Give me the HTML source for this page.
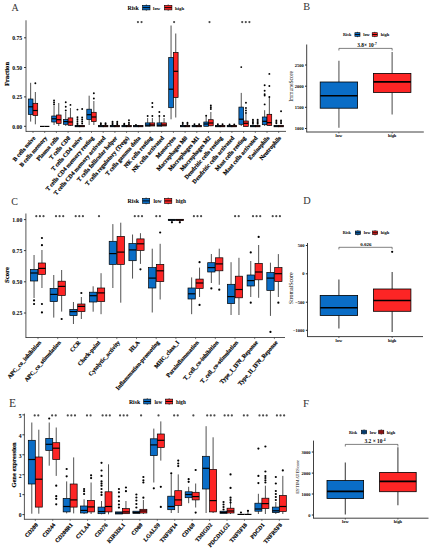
<!DOCTYPE html><html><head><meta charset="utf-8"><style>html,body{margin:0;padding:0;background:#fff;}svg{display:block;}</style></head><body>
<svg width="433" height="550" viewBox="0 0 433 550">
<rect width="433" height="550" fill="#fff"/>
<text x="11.6" y="10.6" font-size="10" text-anchor="start" font-weight="normal" font-family='"Liberation Serif", serif' fill="#333" >A</text>
<line x1="26" y1="20.3" x2="26" y2="131.9" stroke="#2a2a2a" stroke-width="0.8" />
<line x1="26" y1="131.4" x2="286" y2="131.4" stroke="#2a2a2a" stroke-width="0.8" />
<line x1="24" y1="126.3" x2="26" y2="126.3" stroke="#222" stroke-width="0.9" />
<text x="22.2" y="128.8" font-size="5.7" text-anchor="end" font-weight="bold" font-family='"Liberation Serif", serif' fill="#000" >0.00</text>
<line x1="24" y1="96.9" x2="26" y2="96.9" stroke="#222" stroke-width="0.9" />
<text x="22.2" y="99.4" font-size="5.7" text-anchor="end" font-weight="bold" font-family='"Liberation Serif", serif' fill="#000" >0.25</text>
<line x1="24" y1="67.5" x2="26" y2="67.5" stroke="#222" stroke-width="0.9" />
<text x="22.2" y="70" font-size="5.7" text-anchor="end" font-weight="bold" font-family='"Liberation Serif", serif' fill="#000" >0.50</text>
<line x1="24" y1="37.8" x2="26" y2="37.8" stroke="#222" stroke-width="0.9" />
<text x="22.2" y="40.3" font-size="5.7" text-anchor="end" font-weight="bold" font-family='"Liberation Serif", serif' fill="#000" >0.75</text>
<text x="8.8" y="74" font-size="6.6" text-anchor="middle" font-weight="bold" font-family='"Liberation Serif", serif' fill="#000" transform="rotate(-90 8.8 74)" stroke="#000" stroke-width="0.15">Fraction</text>
<line x1="33" y1="131.4" x2="33" y2="133" stroke="#2a2a2a" stroke-width="0.6" />
<line x1="30.65" y1="82.8" x2="30.65" y2="99" stroke="#333" stroke-width="0.85" />
<line x1="30.65" y1="114.5" x2="30.65" y2="121.6" stroke="#333" stroke-width="0.85" />
<rect x="28.3" y="99" width="4.7" height="15.5" fill="#0a6dc6" stroke="#000" stroke-width="0.7"/>
<line x1="28.3" y1="106.8" x2="33" y2="106.8" stroke="#000" stroke-width="1.2" />
<line x1="35.35" y1="92" x2="35.35" y2="103.3" stroke="#333" stroke-width="0.85" />
<line x1="35.35" y1="115.5" x2="35.35" y2="124.3" stroke="#333" stroke-width="0.85" />
<rect x="33" y="103.3" width="4.7" height="12.2" fill="#fd2525" stroke="#000" stroke-width="0.7"/>
<line x1="33" y1="110.5" x2="37.7" y2="110.5" stroke="#000" stroke-width="1.2" />
<circle cx="35.35" cy="83.3" r="0.95" fill="#000"/>
<text x="35.7" y="138.2" font-size="5.9" text-anchor="end" font-weight="bold" font-family='"Liberation Serif", serif' fill="#000" transform="rotate(-49 35.7 138.2)" stroke="#000" stroke-width="0.18">B cells naive</text>
<line x1="44.7" y1="131.4" x2="44.7" y2="133" stroke="#2a2a2a" stroke-width="0.6" />
<line x1="40" y1="126.4" x2="44.7" y2="126.4" stroke="#000" stroke-width="1.15" />
<line x1="44.7" y1="126.4" x2="49.4" y2="126.4" stroke="#000" stroke-width="1.15" />
<text x="47.4" y="138.2" font-size="5.9" text-anchor="end" font-weight="bold" font-family='"Liberation Serif", serif' fill="#000" transform="rotate(-49 47.4 138.2)" stroke="#000" stroke-width="0.18">B cells memory</text>
<line x1="56.4" y1="131.4" x2="56.4" y2="133" stroke="#2a2a2a" stroke-width="0.6" />
<line x1="54.05" y1="106" x2="54.05" y2="116" stroke="#333" stroke-width="0.85" />
<line x1="54.05" y1="122" x2="54.05" y2="125" stroke="#333" stroke-width="0.85" />
<rect x="51.7" y="116" width="4.7" height="6" fill="#0a6dc6" stroke="#000" stroke-width="0.7"/>
<line x1="51.7" y1="118.8" x2="56.4" y2="118.8" stroke="#000" stroke-width="1.2" />
<circle cx="54.05" cy="100.5" r="0.95" fill="#000"/>
<circle cx="54.05" cy="102.5" r="0.95" fill="#000"/>
<circle cx="54.05" cy="104.5" r="0.95" fill="#000"/>
<line x1="58.75" y1="103" x2="58.75" y2="115" stroke="#333" stroke-width="0.85" />
<line x1="58.75" y1="123.4" x2="58.75" y2="126" stroke="#333" stroke-width="0.85" />
<rect x="56.4" y="115" width="4.7" height="8.4" fill="#fd2525" stroke="#000" stroke-width="0.7"/>
<line x1="56.4" y1="119.7" x2="61.1" y2="119.7" stroke="#000" stroke-width="1.2" />
<text x="59.1" y="138.2" font-size="5.9" text-anchor="end" font-weight="bold" font-family='"Liberation Serif", serif' fill="#000" transform="rotate(-49 59.1 138.2)" stroke="#000" stroke-width="0.18">Plasma cells</text>
<line x1="68.1" y1="131.4" x2="68.1" y2="133" stroke="#2a2a2a" stroke-width="0.6" />
<line x1="65.75" y1="112" x2="65.75" y2="119.4" stroke="#333" stroke-width="0.85" />
<line x1="65.75" y1="124.3" x2="65.75" y2="126" stroke="#333" stroke-width="0.85" />
<rect x="63.4" y="119.4" width="4.7" height="4.9" fill="#0a6dc6" stroke="#000" stroke-width="0.7"/>
<line x1="63.4" y1="121.6" x2="68.1" y2="121.6" stroke="#000" stroke-width="1.2" />
<circle cx="65.75" cy="102.2" r="0.95" fill="#000"/>
<circle cx="65.75" cy="106.8" r="0.95" fill="#000"/>
<circle cx="65.75" cy="110.5" r="0.95" fill="#000"/>
<line x1="70.45" y1="108" x2="70.45" y2="117.9" stroke="#333" stroke-width="0.85" />
<line x1="70.45" y1="125.3" x2="70.45" y2="126" stroke="#333" stroke-width="0.85" />
<rect x="68.1" y="117.9" width="4.7" height="7.4" fill="#fd2525" stroke="#000" stroke-width="0.7"/>
<line x1="68.1" y1="122" x2="72.8" y2="122" stroke="#000" stroke-width="1.2" />
<circle cx="70.45" cy="104.9" r="0.95" fill="#000"/>
<text x="70.8" y="138.2" font-size="5.9" text-anchor="end" font-weight="bold" font-family='"Liberation Serif", serif' fill="#000" transform="rotate(-49 70.8 138.2)" stroke="#000" stroke-width="0.18">T cells CD8</text>
<line x1="79.8" y1="131.4" x2="79.8" y2="133" stroke="#2a2a2a" stroke-width="0.6" />
<rect x="75.1" y="125.4" width="4.7" height="1.4" fill="#0a6dc6" stroke="#000" stroke-width="0.7"/>
<line x1="75.1" y1="126.1" x2="79.8" y2="126.1" stroke="#000" stroke-width="1.2" />
<circle cx="77.45" cy="109.6" r="0.95" fill="#000"/>
<circle cx="77.45" cy="117.2" r="0.95" fill="#000"/>
<circle cx="77.45" cy="119.2" r="0.95" fill="#000"/>
<circle cx="77.45" cy="121.2" r="0.95" fill="#000"/>
<circle cx="77.45" cy="123.2" r="0.95" fill="#000"/>
<circle cx="77.45" cy="125" r="0.95" fill="#000"/>
<rect x="79.8" y="125.4" width="4.7" height="1.4" fill="#fd2525" stroke="#000" stroke-width="0.7"/>
<line x1="79.8" y1="126.1" x2="84.5" y2="126.1" stroke="#000" stroke-width="1.2" />
<circle cx="82.15" cy="109" r="0.95" fill="#000"/>
<circle cx="82.15" cy="117.5" r="0.95" fill="#000"/>
<circle cx="82.15" cy="119.5" r="0.95" fill="#000"/>
<circle cx="82.15" cy="121.5" r="0.95" fill="#000"/>
<circle cx="82.15" cy="123.5" r="0.95" fill="#000"/>
<text x="82.5" y="138.2" font-size="5.9" text-anchor="end" font-weight="bold" font-family='"Liberation Serif", serif' fill="#000" transform="rotate(-49 82.5 138.2)" stroke="#000" stroke-width="0.18">T cells CD4 naive</text>
<line x1="91.5" y1="131.4" x2="91.5" y2="133" stroke="#2a2a2a" stroke-width="0.6" />
<line x1="89.15" y1="95.7" x2="89.15" y2="109.2" stroke="#333" stroke-width="0.85" />
<line x1="89.15" y1="119.4" x2="89.15" y2="125" stroke="#333" stroke-width="0.85" />
<rect x="86.8" y="109.2" width="4.7" height="10.2" fill="#0a6dc6" stroke="#000" stroke-width="0.7"/>
<line x1="86.8" y1="114.7" x2="91.5" y2="114.7" stroke="#000" stroke-width="1.2" />
<line x1="93.85" y1="101" x2="93.85" y2="112.3" stroke="#333" stroke-width="0.85" />
<line x1="93.85" y1="121.6" x2="93.85" y2="125" stroke="#333" stroke-width="0.85" />
<rect x="91.5" y="112.3" width="4.7" height="9.3" fill="#fd2525" stroke="#000" stroke-width="0.7"/>
<line x1="91.5" y1="117" x2="96.2" y2="117" stroke="#000" stroke-width="1.2" />
<circle cx="93.85" cy="93.3" r="0.95" fill="#000"/>
<circle cx="93.85" cy="98.5" r="0.95" fill="#000"/>
<text x="94.2" y="138.2" font-size="5.9" text-anchor="end" font-weight="bold" font-family='"Liberation Serif", serif' fill="#000" transform="rotate(-49 94.2 138.2)" stroke="#000" stroke-width="0.18">T cells CD4 memory resting</text>
<line x1="103.2" y1="131.4" x2="103.2" y2="133" stroke="#2a2a2a" stroke-width="0.6" />
<rect x="98.5" y="125.4" width="4.7" height="1.4" fill="#0a6dc6" stroke="#000" stroke-width="0.7"/>
<line x1="98.5" y1="126.1" x2="103.2" y2="126.1" stroke="#000" stroke-width="1.2" />
<circle cx="100.85" cy="123.3" r="0.95" fill="#000"/>
<circle cx="100.85" cy="124.3" r="0.95" fill="#000"/>
<rect x="103.2" y="125.4" width="4.7" height="1.4" fill="#fd2525" stroke="#000" stroke-width="0.7"/>
<line x1="103.2" y1="126.1" x2="107.9" y2="126.1" stroke="#000" stroke-width="1.2" />
<circle cx="105.55" cy="123.3" r="0.95" fill="#000"/>
<circle cx="105.55" cy="124.3" r="0.95" fill="#000"/>
<text x="105.9" y="138.2" font-size="5.9" text-anchor="end" font-weight="bold" font-family='"Liberation Serif", serif' fill="#000" transform="rotate(-49 105.9 138.2)" stroke="#000" stroke-width="0.18">T cells CD4 memory activated</text>
<line x1="114.9" y1="131.4" x2="114.9" y2="133" stroke="#2a2a2a" stroke-width="0.6" />
<rect x="110.2" y="125.4" width="4.7" height="1.4" fill="#0a6dc6" stroke="#000" stroke-width="0.7"/>
<line x1="110.2" y1="126.1" x2="114.9" y2="126.1" stroke="#000" stroke-width="1.2" />
<circle cx="112.55" cy="121.6" r="0.95" fill="#000"/>
<circle cx="112.55" cy="123" r="0.95" fill="#000"/>
<circle cx="112.55" cy="124.3" r="0.95" fill="#000"/>
<rect x="114.9" y="125.4" width="4.7" height="1.4" fill="#fd2525" stroke="#000" stroke-width="0.7"/>
<line x1="114.9" y1="126.1" x2="119.6" y2="126.1" stroke="#000" stroke-width="1.2" />
<circle cx="117.25" cy="121.6" r="0.95" fill="#000"/>
<circle cx="117.25" cy="123" r="0.95" fill="#000"/>
<circle cx="117.25" cy="124.3" r="0.95" fill="#000"/>
<text x="117.6" y="138.2" font-size="5.9" text-anchor="end" font-weight="bold" font-family='"Liberation Serif", serif' fill="#000" transform="rotate(-49 117.6 138.2)" stroke="#000" stroke-width="0.18">T cells follicular helper</text>
<line x1="126.6" y1="131.4" x2="126.6" y2="133" stroke="#2a2a2a" stroke-width="0.6" />
<rect x="121.9" y="125.4" width="4.7" height="1.4" fill="#0a6dc6" stroke="#000" stroke-width="0.7"/>
<line x1="121.9" y1="126.1" x2="126.6" y2="126.1" stroke="#000" stroke-width="1.2" />
<circle cx="124.25" cy="123.8" r="0.95" fill="#000"/>
<circle cx="124.25" cy="124.8" r="0.95" fill="#000"/>
<rect x="126.6" y="125.4" width="4.7" height="1.4" fill="#fd2525" stroke="#000" stroke-width="0.7"/>
<line x1="126.6" y1="126.1" x2="131.3" y2="126.1" stroke="#000" stroke-width="1.2" />
<circle cx="128.95" cy="120.3" r="0.95" fill="#000"/>
<circle cx="128.95" cy="122.8" r="0.95" fill="#000"/>
<circle cx="128.95" cy="124.2" r="0.95" fill="#000"/>
<text x="129.3" y="138.2" font-size="5.9" text-anchor="end" font-weight="bold" font-family='"Liberation Serif", serif' fill="#000" transform="rotate(-49 129.3 138.2)" stroke="#000" stroke-width="0.18">T cells regulatory (Tregs)</text>
<line x1="138.3" y1="131.4" x2="138.3" y2="133" stroke="#2a2a2a" stroke-width="0.6" />
<rect x="133.6" y="125.4" width="4.7" height="1.4" fill="#0a6dc6" stroke="#000" stroke-width="0.7"/>
<line x1="133.6" y1="126.1" x2="138.3" y2="126.1" stroke="#000" stroke-width="1.2" />
<circle cx="135.95" cy="124.9" r="0.95" fill="#000"/>
<rect x="138.3" y="125.4" width="4.7" height="1.4" fill="#fd2525" stroke="#000" stroke-width="0.7"/>
<line x1="138.3" y1="126.1" x2="143" y2="126.1" stroke="#000" stroke-width="1.2" />
<text x="141" y="138.2" font-size="5.9" text-anchor="end" font-weight="bold" font-family='"Liberation Serif", serif' fill="#000" transform="rotate(-49 141 138.2)" stroke="#000" stroke-width="0.18">T cells gamma delta</text>
<line x1="150" y1="131.4" x2="150" y2="133" stroke="#2a2a2a" stroke-width="0.6" />
<line x1="147.65" y1="118" x2="147.65" y2="122.9" stroke="#333" stroke-width="0.85" />
<rect x="145.3" y="122.9" width="4.7" height="3.3" fill="#0a6dc6" stroke="#000" stroke-width="0.7"/>
<line x1="145.3" y1="125.2" x2="150" y2="125.2" stroke="#000" stroke-width="1.2" />
<circle cx="147.65" cy="116" r="0.95" fill="#000"/>
<line x1="152.35" y1="118" x2="152.35" y2="122.9" stroke="#333" stroke-width="0.85" />
<rect x="150" y="122.9" width="4.7" height="3.1" fill="#fd2525" stroke="#000" stroke-width="0.7"/>
<line x1="150" y1="125" x2="154.7" y2="125" stroke="#000" stroke-width="1.2" />
<circle cx="152.35" cy="103" r="0.95" fill="#000"/>
<circle cx="152.35" cy="107" r="0.95" fill="#000"/>
<circle cx="152.35" cy="116" r="0.95" fill="#000"/>
<text x="152.7" y="138.2" font-size="5.9" text-anchor="end" font-weight="bold" font-family='"Liberation Serif", serif' fill="#000" transform="rotate(-49 152.7 138.2)" stroke="#000" stroke-width="0.18">NK cells resting</text>
<line x1="161.7" y1="131.4" x2="161.7" y2="133" stroke="#2a2a2a" stroke-width="0.6" />
<line x1="159.35" y1="117" x2="159.35" y2="122.9" stroke="#333" stroke-width="0.85" />
<rect x="157" y="122.9" width="4.7" height="3.3" fill="#0a6dc6" stroke="#000" stroke-width="0.7"/>
<line x1="157" y1="125.2" x2="161.7" y2="125.2" stroke="#000" stroke-width="1.2" />
<circle cx="159.35" cy="112" r="0.95" fill="#000"/>
<circle cx="159.35" cy="116" r="0.95" fill="#000"/>
<line x1="164.05" y1="118" x2="164.05" y2="122.9" stroke="#333" stroke-width="0.85" />
<rect x="161.7" y="122.9" width="4.7" height="3.1" fill="#fd2525" stroke="#000" stroke-width="0.7"/>
<line x1="161.7" y1="125" x2="166.4" y2="125" stroke="#000" stroke-width="1.2" />
<circle cx="164.05" cy="116" r="0.95" fill="#000"/>
<text x="164.4" y="138.2" font-size="5.9" text-anchor="end" font-weight="bold" font-family='"Liberation Serif", serif' fill="#000" transform="rotate(-49 164.4 138.2)" stroke="#000" stroke-width="0.18">NK cells activated</text>
<line x1="173.4" y1="131.4" x2="173.4" y2="133" stroke="#2a2a2a" stroke-width="0.6" />
<line x1="171.05" y1="25.5" x2="171.05" y2="57.5" stroke="#333" stroke-width="0.85" />
<line x1="171.05" y1="107.7" x2="171.05" y2="119.3" stroke="#333" stroke-width="0.85" />
<rect x="168.7" y="57.5" width="4.7" height="50.2" fill="#0a6dc6" stroke="#000" stroke-width="0.7"/>
<line x1="168.7" y1="89.2" x2="173.4" y2="89.2" stroke="#000" stroke-width="1.2" />
<line x1="175.75" y1="33.5" x2="175.75" y2="52.5" stroke="#333" stroke-width="0.85" />
<line x1="175.75" y1="97.5" x2="175.75" y2="117.5" stroke="#333" stroke-width="0.85" />
<rect x="173.4" y="52.5" width="4.7" height="45" fill="#fd2525" stroke="#000" stroke-width="0.7"/>
<line x1="173.4" y1="71.3" x2="178.1" y2="71.3" stroke="#000" stroke-width="1.2" />
<text x="176.1" y="138.2" font-size="5.9" text-anchor="end" font-weight="bold" font-family='"Liberation Serif", serif' fill="#000" transform="rotate(-49 176.1 138.2)" stroke="#000" stroke-width="0.18">Monocytes</text>
<line x1="185.1" y1="131.4" x2="185.1" y2="133" stroke="#2a2a2a" stroke-width="0.6" />
<rect x="180.4" y="125.4" width="4.7" height="1.4" fill="#0a6dc6" stroke="#000" stroke-width="0.7"/>
<line x1="180.4" y1="126.1" x2="185.1" y2="126.1" stroke="#000" stroke-width="1.2" />
<circle cx="182.75" cy="122.8" r="0.95" fill="#000"/>
<circle cx="182.75" cy="124" r="0.95" fill="#000"/>
<rect x="185.1" y="125.4" width="4.7" height="1.4" fill="#fd2525" stroke="#000" stroke-width="0.7"/>
<line x1="185.1" y1="126.1" x2="189.8" y2="126.1" stroke="#000" stroke-width="1.2" />
<circle cx="187.45" cy="122.8" r="0.95" fill="#000"/>
<circle cx="187.45" cy="124" r="0.95" fill="#000"/>
<text x="187.8" y="138.2" font-size="5.9" text-anchor="end" font-weight="bold" font-family='"Liberation Serif", serif' fill="#000" transform="rotate(-49 187.8 138.2)" stroke="#000" stroke-width="0.18">Macrophages M0</text>
<line x1="196.8" y1="131.4" x2="196.8" y2="133" stroke="#2a2a2a" stroke-width="0.6" />
<rect x="192.1" y="125.4" width="4.7" height="1.4" fill="#0a6dc6" stroke="#000" stroke-width="0.7"/>
<line x1="192.1" y1="126.1" x2="196.8" y2="126.1" stroke="#000" stroke-width="1.2" />
<circle cx="194.45" cy="124.2" r="0.95" fill="#000"/>
<rect x="196.8" y="125.4" width="4.7" height="1.4" fill="#fd2525" stroke="#000" stroke-width="0.7"/>
<line x1="196.8" y1="126.1" x2="201.5" y2="126.1" stroke="#000" stroke-width="1.2" />
<circle cx="199.15" cy="124.2" r="0.95" fill="#000"/>
<text x="199.5" y="138.2" font-size="5.9" text-anchor="end" font-weight="bold" font-family='"Liberation Serif", serif' fill="#000" transform="rotate(-49 199.5 138.2)" stroke="#000" stroke-width="0.18">Macrophages M1</text>
<line x1="208.5" y1="131.4" x2="208.5" y2="133" stroke="#2a2a2a" stroke-width="0.6" />
<line x1="206.15" y1="116.5" x2="206.15" y2="122" stroke="#333" stroke-width="0.85" />
<rect x="203.8" y="122" width="4.7" height="4.3" fill="#0a6dc6" stroke="#000" stroke-width="0.7"/>
<line x1="203.8" y1="124" x2="208.5" y2="124" stroke="#000" stroke-width="1.2" />
<circle cx="206.15" cy="115.8" r="0.95" fill="#000"/>
<line x1="210.85" y1="112" x2="210.85" y2="119.7" stroke="#333" stroke-width="0.85" />
<line x1="210.85" y1="125.8" x2="210.85" y2="126.2" stroke="#333" stroke-width="0.85" />
<rect x="208.5" y="119.7" width="4.7" height="6.1" fill="#fd2525" stroke="#000" stroke-width="0.7"/>
<line x1="208.5" y1="123" x2="213.2" y2="123" stroke="#000" stroke-width="1.2" />
<circle cx="210.85" cy="105.5" r="0.95" fill="#000"/>
<circle cx="210.85" cy="107.2" r="0.95" fill="#000"/>
<circle cx="210.85" cy="109" r="0.95" fill="#000"/>
<text x="211.2" y="138.2" font-size="5.9" text-anchor="end" font-weight="bold" font-family='"Liberation Serif", serif' fill="#000" transform="rotate(-49 211.2 138.2)" stroke="#000" stroke-width="0.18">Macrophages M2</text>
<line x1="220.2" y1="131.4" x2="220.2" y2="133" stroke="#2a2a2a" stroke-width="0.6" />
<rect x="215.5" y="125.4" width="4.7" height="1.4" fill="#0a6dc6" stroke="#000" stroke-width="0.7"/>
<line x1="215.5" y1="126.1" x2="220.2" y2="126.1" stroke="#000" stroke-width="1.2" />
<circle cx="217.85" cy="124.2" r="0.95" fill="#000"/>
<rect x="220.2" y="125.4" width="4.7" height="1.4" fill="#fd2525" stroke="#000" stroke-width="0.7"/>
<line x1="220.2" y1="126.1" x2="224.9" y2="126.1" stroke="#000" stroke-width="1.2" />
<circle cx="222.55" cy="124.2" r="0.95" fill="#000"/>
<text x="222.9" y="138.2" font-size="5.9" text-anchor="end" font-weight="bold" font-family='"Liberation Serif", serif' fill="#000" transform="rotate(-49 222.9 138.2)" stroke="#000" stroke-width="0.18">Dendritic cells resting</text>
<line x1="231.9" y1="131.4" x2="231.9" y2="133" stroke="#2a2a2a" stroke-width="0.6" />
<rect x="227.2" y="125.4" width="4.7" height="1.4" fill="#0a6dc6" stroke="#000" stroke-width="0.7"/>
<line x1="227.2" y1="126.1" x2="231.9" y2="126.1" stroke="#000" stroke-width="1.2" />
<circle cx="229.55" cy="124.5" r="0.95" fill="#000"/>
<rect x="231.9" y="125.4" width="4.7" height="1.4" fill="#fd2525" stroke="#000" stroke-width="0.7"/>
<line x1="231.9" y1="126.1" x2="236.6" y2="126.1" stroke="#000" stroke-width="1.2" />
<circle cx="234.25" cy="124.5" r="0.95" fill="#000"/>
<text x="234.6" y="138.2" font-size="5.9" text-anchor="end" font-weight="bold" font-family='"Liberation Serif", serif' fill="#000" transform="rotate(-49 234.6 138.2)" stroke="#000" stroke-width="0.18">Dendritic cells activated</text>
<line x1="243.6" y1="131.4" x2="243.6" y2="133" stroke="#2a2a2a" stroke-width="0.6" />
<line x1="241.25" y1="92.9" x2="241.25" y2="107.1" stroke="#333" stroke-width="0.85" />
<line x1="241.25" y1="124.3" x2="241.25" y2="126" stroke="#333" stroke-width="0.85" />
<rect x="238.9" y="107.1" width="4.7" height="17.2" fill="#0a6dc6" stroke="#000" stroke-width="0.7"/>
<line x1="238.9" y1="119.2" x2="243.6" y2="119.2" stroke="#000" stroke-width="1.2" />
<circle cx="241.25" cy="67.1" r="0.95" fill="#000"/>
<line x1="245.95" y1="114" x2="245.95" y2="121" stroke="#333" stroke-width="0.85" />
<rect x="243.6" y="121" width="4.7" height="5.5" fill="#fd2525" stroke="#000" stroke-width="0.7"/>
<line x1="243.6" y1="123.3" x2="248.3" y2="123.3" stroke="#000" stroke-width="1.2" />
<circle cx="245.95" cy="102.8" r="0.95" fill="#000"/>
<circle cx="245.95" cy="108" r="0.95" fill="#000"/>
<circle cx="245.95" cy="110.5" r="0.95" fill="#000"/>
<circle cx="245.95" cy="113" r="0.95" fill="#000"/>
<text x="246.3" y="138.2" font-size="5.9" text-anchor="end" font-weight="bold" font-family='"Liberation Serif", serif' fill="#000" transform="rotate(-49 246.3 138.2)" stroke="#000" stroke-width="0.18">Mast cells resting</text>
<line x1="255.3" y1="131.4" x2="255.3" y2="133" stroke="#2a2a2a" stroke-width="0.6" />
<rect x="250.6" y="125.4" width="4.7" height="1.4" fill="#0a6dc6" stroke="#000" stroke-width="0.7"/>
<line x1="250.6" y1="126.1" x2="255.3" y2="126.1" stroke="#000" stroke-width="1.2" />
<circle cx="252.95" cy="119.6" r="0.95" fill="#000"/>
<circle cx="252.95" cy="121" r="0.95" fill="#000"/>
<circle cx="252.95" cy="122.4" r="0.95" fill="#000"/>
<circle cx="252.95" cy="123.8" r="0.95" fill="#000"/>
<rect x="255.3" y="125.4" width="4.7" height="1.4" fill="#fd2525" stroke="#000" stroke-width="0.7"/>
<line x1="255.3" y1="126.1" x2="260" y2="126.1" stroke="#000" stroke-width="1.2" />
<circle cx="257.65" cy="119.6" r="0.95" fill="#000"/>
<circle cx="257.65" cy="121" r="0.95" fill="#000"/>
<circle cx="257.65" cy="122.4" r="0.95" fill="#000"/>
<circle cx="257.65" cy="123.8" r="0.95" fill="#000"/>
<text x="258" y="138.2" font-size="5.9" text-anchor="end" font-weight="bold" font-family='"Liberation Serif", serif' fill="#000" transform="rotate(-49 258 138.2)" stroke="#000" stroke-width="0.18">Mast cells activated</text>
<line x1="267" y1="131.4" x2="267" y2="133" stroke="#2a2a2a" stroke-width="0.6" />
<line x1="264.65" y1="110.2" x2="264.65" y2="117" stroke="#333" stroke-width="0.85" />
<line x1="264.65" y1="124.7" x2="264.65" y2="126" stroke="#333" stroke-width="0.85" />
<rect x="262.3" y="117" width="4.7" height="7.7" fill="#0a6dc6" stroke="#000" stroke-width="0.7"/>
<line x1="262.3" y1="121.3" x2="267" y2="121.3" stroke="#000" stroke-width="1.2" />
<circle cx="264.65" cy="85.2" r="0.95" fill="#000"/>
<circle cx="264.65" cy="90.8" r="0.95" fill="#000"/>
<circle cx="264.65" cy="94.2" r="0.95" fill="#000"/>
<circle cx="264.65" cy="95.6" r="0.95" fill="#000"/>
<circle cx="264.65" cy="104.4" r="0.95" fill="#000"/>
<line x1="269.35" y1="97" x2="269.35" y2="114.3" stroke="#333" stroke-width="0.85" />
<line x1="269.35" y1="125.4" x2="269.35" y2="126" stroke="#333" stroke-width="0.85" />
<rect x="267" y="114.3" width="4.7" height="11.1" fill="#fd2525" stroke="#000" stroke-width="0.7"/>
<line x1="267" y1="122.7" x2="271.7" y2="122.7" stroke="#000" stroke-width="1.2" />
<circle cx="269.35" cy="73.9" r="0.95" fill="#000"/>
<circle cx="269.35" cy="86" r="0.95" fill="#000"/>
<circle cx="269.35" cy="97" r="0.95" fill="#000"/>
<text x="269.7" y="138.2" font-size="5.9" text-anchor="end" font-weight="bold" font-family='"Liberation Serif", serif' fill="#000" transform="rotate(-49 269.7 138.2)" stroke="#000" stroke-width="0.18">Eosinophils</text>
<line x1="278.7" y1="131.4" x2="278.7" y2="133" stroke="#2a2a2a" stroke-width="0.6" />
<rect x="274" y="125.4" width="4.7" height="1.4" fill="#0a6dc6" stroke="#000" stroke-width="0.7"/>
<line x1="274" y1="126.1" x2="278.7" y2="126.1" stroke="#000" stroke-width="1.2" />
<circle cx="276.35" cy="120.5" r="0.95" fill="#000"/>
<circle cx="276.35" cy="121.9" r="0.95" fill="#000"/>
<circle cx="276.35" cy="123.3" r="0.95" fill="#000"/>
<rect x="278.7" y="125.4" width="4.7" height="1.4" fill="#fd2525" stroke="#000" stroke-width="0.7"/>
<line x1="278.7" y1="126.1" x2="283.4" y2="126.1" stroke="#000" stroke-width="1.2" />
<circle cx="281.05" cy="111.2" r="0.95" fill="#000"/>
<circle cx="281.05" cy="120.5" r="0.95" fill="#000"/>
<circle cx="281.05" cy="121.9" r="0.95" fill="#000"/>
<circle cx="281.05" cy="123.3" r="0.95" fill="#000"/>
<text x="281.4" y="138.2" font-size="5.9" text-anchor="end" font-weight="bold" font-family='"Liberation Serif", serif' fill="#000" transform="rotate(-49 281.4 138.2)" stroke="#000" stroke-width="0.18">Neutrophils</text>
<circle cx="137.95" cy="22.1" r="1.1" fill="#4a4a4a"/>
<circle cx="141.55" cy="22.1" r="1.1" fill="#4a4a4a"/>
<circle cx="174.1" cy="22.1" r="1.1" fill="#4a4a4a"/>
<circle cx="209.5" cy="22.1" r="1.1" fill="#4a4a4a"/>
<circle cx="242.2" cy="22.1" r="1.1" fill="#4a4a4a"/>
<circle cx="245.8" cy="22.1" r="1.1" fill="#4a4a4a"/>
<circle cx="249.4" cy="22.1" r="1.1" fill="#4a4a4a"/>
<text x="127.4" y="9.6" font-size="5.9" text-anchor="start" font-weight="bold" font-family='"Liberation Serif", serif' fill="#000" >Risk</text>
<line x1="146.3" y1="4.4" x2="146.3" y2="10.8" stroke="#000" stroke-width="0.6" />
<rect x="142.6" y="5.3" width="7.4" height="4.6" fill="#0a6dc6" stroke="#000" stroke-width="0.6"/>
<line x1="142.6" y1="7.6" x2="150" y2="7.6" stroke="#000" stroke-width="0.9" />
<line x1="168.2" y1="4.4" x2="168.2" y2="10.8" stroke="#000" stroke-width="0.6" />
<rect x="164.5" y="5.3" width="7.4" height="4.6" fill="#fd2525" stroke="#000" stroke-width="0.6"/>
<line x1="164.5" y1="7.6" x2="171.9" y2="7.6" stroke="#000" stroke-width="0.9" />
<text x="153.1" y="9.6" font-size="4.8" text-anchor="start" font-weight="bold" font-family='"Liberation Serif", serif' fill="#000" >low</text>
<text x="175" y="9.6" font-size="4.8" text-anchor="start" font-weight="bold" font-family='"Liberation Serif", serif' fill="#000" >high</text>
<text x="303.3" y="10" font-size="10.3" text-anchor="start" font-weight="normal" font-family='"Liberation Serif", serif' fill="#333" >B</text>
<line x1="306.7" y1="44.5" x2="306.7" y2="132.4" stroke="#2a2a2a" stroke-width="0.9" />
<line x1="306.7" y1="132" x2="423.8" y2="132" stroke="#2a2a2a" stroke-width="0.9" />
<line x1="305" y1="128.5" x2="306.7" y2="128.5" stroke="#222" stroke-width="1.0" />
<text x="303.8" y="130" font-size="4.5" text-anchor="end" font-weight="bold" font-family='"Liberation Serif", serif' fill="#000" >1000</text>
<line x1="305" y1="107.3" x2="306.7" y2="107.3" stroke="#222" stroke-width="1.0" />
<text x="303.8" y="108.8" font-size="4.5" text-anchor="end" font-weight="bold" font-family='"Liberation Serif", serif' fill="#000" >1500</text>
<line x1="305" y1="86.2" x2="306.7" y2="86.2" stroke="#222" stroke-width="1.0" />
<text x="303.8" y="87.7" font-size="4.5" text-anchor="end" font-weight="bold" font-family='"Liberation Serif", serif' fill="#000" >2000</text>
<line x1="305" y1="65" x2="306.7" y2="65" stroke="#222" stroke-width="1.0" />
<text x="303.8" y="66.5" font-size="4.5" text-anchor="end" font-weight="bold" font-family='"Liberation Serif", serif' fill="#000" >2500</text>
<text x="293" y="86.4" font-size="5.5" text-anchor="middle" font-weight="normal" font-family='"Liberation Serif", serif' fill="#000" transform="rotate(-90 293 86.4)" >ImmuneScore</text>
<line x1="338.9" y1="60.7" x2="338.9" y2="82" stroke="#7c7c7c" stroke-width="1.4" />
<line x1="338.9" y1="108.2" x2="338.9" y2="127.7" stroke="#7c7c7c" stroke-width="1.4" />
<rect x="320.2" y="82" width="37.4" height="26.2" fill="#0a6dc6" stroke="#000" stroke-width="0.8"/>
<line x1="320.2" y1="95.8" x2="357.6" y2="95.8" stroke="#000" stroke-width="1.6" />
<line x1="338.9" y1="132" x2="338.9" y2="133.4" stroke="#2a2a2a" stroke-width="0.7" />
<text x="338.9" y="137" font-size="4.4" text-anchor="middle" font-weight="bold" font-family='"Liberation Serif", serif' fill="#000" >low</text>
<line x1="392.15" y1="51.9" x2="392.15" y2="73.4" stroke="#7c7c7c" stroke-width="1.4" />
<line x1="392.15" y1="92.4" x2="392.15" y2="114.6" stroke="#7c7c7c" stroke-width="1.4" />
<rect x="373.4" y="73.4" width="37.5" height="19" fill="#fd2525" stroke="#000" stroke-width="0.8"/>
<line x1="373.4" y1="81.9" x2="410.9" y2="81.9" stroke="#000" stroke-width="1.6" />
<line x1="392.15" y1="132" x2="392.15" y2="133.4" stroke="#2a2a2a" stroke-width="0.7" />
<text x="392.15" y="137" font-size="4.4" text-anchor="middle" font-weight="bold" font-family='"Liberation Serif", serif' fill="#000" >high</text>
<polyline points="338.9,50.5 338.9,48.4 392.15,48.4 392.15,50.5" fill="none" stroke="#2a2a2a" stroke-width="0.6"/>
<text x="367" y="46.6" font-size="5.4" text-anchor="middle" font-weight="bold" font-family='"Liberation Serif", serif' fill="#000" >3.8× 10<tspan dy='-2' font-size='3.5'>-7</tspan></text>
<text x="343.1" y="36" font-size="4.2" text-anchor="start" font-weight="bold" font-family='"Liberation Serif", serif' fill="#000" >Risk</text>
<line x1="357.45" y1="31.8" x2="357.45" y2="37.2" stroke="#000" stroke-width="0.6" />
<rect x="354.9" y="32.7" width="5.1" height="3.6" fill="#0a6dc6" stroke="#000" stroke-width="0.6"/>
<line x1="354.9" y1="34.5" x2="360" y2="34.5" stroke="#000" stroke-width="0.9" />
<line x1="374.75" y1="31.8" x2="374.75" y2="37.2" stroke="#000" stroke-width="0.6" />
<rect x="372.2" y="32.7" width="5.1" height="3.6" fill="#fd2525" stroke="#000" stroke-width="0.6"/>
<line x1="372.2" y1="34.5" x2="377.3" y2="34.5" stroke="#000" stroke-width="0.9" />
<text x="363.2" y="36" font-size="4.4" text-anchor="start" font-weight="bold" font-family='"Liberation Serif", serif' fill="#000" >low</text>
<text x="380.8" y="36" font-size="4.4" text-anchor="start" font-weight="bold" font-family='"Liberation Serif", serif' fill="#000" >high</text>
<text x="303.3" y="203.5" font-size="10.3" text-anchor="start" font-weight="normal" font-family='"Liberation Serif", serif' fill="#333" >D</text>
<line x1="307.5" y1="243" x2="307.5" y2="337" stroke="#2a2a2a" stroke-width="0.9" />
<line x1="307.5" y1="336.6" x2="423" y2="336.6" stroke="#2a2a2a" stroke-width="0.9" />
<line x1="305.8" y1="245.5" x2="307.5" y2="245.5" stroke="#222" stroke-width="1.0" />
<text x="304.6" y="247" font-size="4.5" text-anchor="end" font-weight="bold" font-family='"Liberation Serif", serif' fill="#000" >500</text>
<line x1="305.8" y1="273.8" x2="307.5" y2="273.8" stroke="#222" stroke-width="1.0" />
<text x="304.6" y="275.3" font-size="4.5" text-anchor="end" font-weight="bold" font-family='"Liberation Serif", serif' fill="#000" >0</text>
<line x1="305.8" y1="302.2" x2="307.5" y2="302.2" stroke="#222" stroke-width="1.0" />
<text x="304.6" y="303.7" font-size="4.5" text-anchor="end" font-weight="bold" font-family='"Liberation Serif", serif' fill="#000" >−500</text>
<line x1="305.8" y1="330.3" x2="307.5" y2="330.3" stroke="#222" stroke-width="1.0" />
<text x="304.6" y="331.8" font-size="4.5" text-anchor="end" font-weight="bold" font-family='"Liberation Serif", serif' fill="#000" >−1000</text>
<text x="293.2" y="288.4" font-size="5.85" text-anchor="middle" font-weight="normal" font-family='"Liberation Serif", serif' fill="#000" transform="rotate(-90 293.2 288.4)" >StromalScore</text>
<line x1="338.9" y1="279.4" x2="338.9" y2="295.4" stroke="#444" stroke-width="1.1" />
<line x1="338.9" y1="315.4" x2="338.9" y2="328.5" stroke="#444" stroke-width="1.1" />
<rect x="320.2" y="295.4" width="37.4" height="20" fill="#0a6dc6" stroke="#000" stroke-width="0.8"/>
<line x1="320.2" y1="307.8" x2="357.6" y2="307.8" stroke="#000" stroke-width="1.6" />
<line x1="338.9" y1="336.6" x2="338.9" y2="338" stroke="#2a2a2a" stroke-width="0.7" />
<text x="338.9" y="341.7" font-size="4.4" text-anchor="middle" font-weight="bold" font-family='"Liberation Serif", serif' fill="#000" >low</text>
<line x1="392.15" y1="272" x2="392.15" y2="289" stroke="#444" stroke-width="1.1" />
<line x1="392.15" y1="311.3" x2="392.15" y2="332" stroke="#444" stroke-width="1.1" />
<rect x="373.4" y="289" width="37.5" height="22.3" fill="#fd2525" stroke="#000" stroke-width="0.8"/>
<line x1="373.4" y1="300.5" x2="410.9" y2="300.5" stroke="#000" stroke-width="1.6" />
<circle cx="392.15" cy="251.8" r="1.1" fill="#000"/>
<line x1="392.15" y1="336.6" x2="392.15" y2="338" stroke="#2a2a2a" stroke-width="0.7" />
<text x="392.15" y="341.7" font-size="4.4" text-anchor="middle" font-weight="bold" font-family='"Liberation Serif", serif' fill="#000" >high</text>
<polyline points="338.9,249.4 338.9,247.3 392.15,247.3 392.15,249.4" fill="none" stroke="#2a2a2a" stroke-width="0.6"/>
<text x="365.8" y="245.5" font-size="5.0" text-anchor="middle" font-weight="bold" font-family='"Liberation Serif", serif' fill="#000" >0.026</text>
<text x="342.8" y="234.3" font-size="4.2" text-anchor="start" font-weight="bold" font-family='"Liberation Serif", serif' fill="#000" >Risk</text>
<line x1="357.85" y1="230.1" x2="357.85" y2="235.5" stroke="#000" stroke-width="0.6" />
<rect x="355.3" y="231" width="5.1" height="3.6" fill="#0a6dc6" stroke="#000" stroke-width="0.6"/>
<line x1="355.3" y1="232.8" x2="360.4" y2="232.8" stroke="#000" stroke-width="0.9" />
<line x1="375.05" y1="230.1" x2="375.05" y2="235.5" stroke="#000" stroke-width="0.6" />
<rect x="372.5" y="231" width="5.1" height="3.6" fill="#fd2525" stroke="#000" stroke-width="0.6"/>
<line x1="372.5" y1="232.8" x2="377.6" y2="232.8" stroke="#000" stroke-width="0.9" />
<text x="363.8" y="234.3" font-size="4.4" text-anchor="start" font-weight="bold" font-family='"Liberation Serif", serif' fill="#000" >low</text>
<text x="380.8" y="234.3" font-size="4.4" text-anchor="start" font-weight="bold" font-family='"Liberation Serif", serif' fill="#000" >high</text>
<text x="303" y="407.3" font-size="11" text-anchor="start" font-weight="normal" font-family='"Liberation Serif", serif' fill="#333" >F</text>
<line x1="313.5" y1="440.6" x2="313.5" y2="518.6" stroke="#2a2a2a" stroke-width="0.9" />
<line x1="313.5" y1="518.2" x2="428.5" y2="518.2" stroke="#2a2a2a" stroke-width="0.9" />
<line x1="311.8" y1="515" x2="313.5" y2="515" stroke="#222" stroke-width="1.0" />
<text x="310.6" y="516.5" font-size="4.5" text-anchor="end" font-weight="bold" font-family='"Liberation Serif", serif' fill="#000" >0</text>
<line x1="311.8" y1="494" x2="313.5" y2="494" stroke="#222" stroke-width="1.0" />
<text x="310.6" y="495.5" font-size="4.5" text-anchor="end" font-weight="bold" font-family='"Liberation Serif", serif' fill="#000" >1000</text>
<line x1="311.8" y1="473.1" x2="313.5" y2="473.1" stroke="#222" stroke-width="1.0" />
<text x="310.6" y="474.6" font-size="4.5" text-anchor="end" font-weight="bold" font-family='"Liberation Serif", serif' fill="#000" >2000</text>
<line x1="311.8" y1="452" x2="313.5" y2="452" stroke="#222" stroke-width="1.0" />
<text x="310.6" y="453.5" font-size="4.5" text-anchor="end" font-weight="bold" font-family='"Liberation Serif", serif' fill="#000" >3000</text>
<text x="299.1" y="476.8" font-size="4.8" text-anchor="middle" font-weight="normal" font-family='"Liberation Serif", serif' fill="#000" transform="rotate(-90 299.1 476.8)" >ESTIMATEScore</text>
<line x1="345.3" y1="462.5" x2="345.3" y2="480.5" stroke="#444" stroke-width="1.1" />
<line x1="345.3" y1="498.5" x2="345.3" y2="514.4" stroke="#444" stroke-width="1.1" />
<rect x="327" y="480.5" width="36.6" height="18" fill="#0a6dc6" stroke="#000" stroke-width="0.8"/>
<line x1="327" y1="491.4" x2="363.6" y2="491.4" stroke="#000" stroke-width="1.6" />
<line x1="345.3" y1="518.2" x2="345.3" y2="519.6" stroke="#2a2a2a" stroke-width="0.7" />
<text x="345.3" y="523" font-size="4.4" text-anchor="middle" font-weight="bold" font-family='"Liberation Serif", serif' fill="#000" >low</text>
<line x1="397.9" y1="447.3" x2="397.9" y2="472.4" stroke="#444" stroke-width="1.1" />
<line x1="397.9" y1="491.7" x2="397.9" y2="505.2" stroke="#444" stroke-width="1.1" />
<rect x="379.6" y="472.4" width="36.6" height="19.3" fill="#fd2525" stroke="#000" stroke-width="0.8"/>
<line x1="379.6" y1="481.4" x2="416.2" y2="481.4" stroke="#000" stroke-width="1.6" />
<line x1="397.9" y1="518.2" x2="397.9" y2="519.6" stroke="#2a2a2a" stroke-width="0.7" />
<text x="397.9" y="523" font-size="4.4" text-anchor="middle" font-weight="bold" font-family='"Liberation Serif", serif' fill="#000" >high</text>
<polyline points="345.3,446.5 345.3,444.4 397.9,444.4 397.9,446.5" fill="none" stroke="#2a2a2a" stroke-width="0.6"/>
<text x="375" y="442.6" font-size="5.4" text-anchor="middle" font-weight="bold" font-family='"Liberation Serif", serif' fill="#000" >3.2 × 10<tspan dy='-2' font-size='3.5'>-4</tspan></text>
<text x="349" y="433.5" font-size="4.2" text-anchor="start" font-weight="bold" font-family='"Liberation Serif", serif' fill="#000" >Risk</text>
<line x1="364.05" y1="429.3" x2="364.05" y2="434.7" stroke="#000" stroke-width="0.6" />
<rect x="361.5" y="430.2" width="5.1" height="3.6" fill="#0a6dc6" stroke="#000" stroke-width="0.6"/>
<line x1="361.5" y1="432" x2="366.6" y2="432" stroke="#000" stroke-width="0.9" />
<line x1="381.25" y1="429.3" x2="381.25" y2="434.7" stroke="#000" stroke-width="0.6" />
<rect x="378.7" y="430.2" width="5.1" height="3.6" fill="#fd2525" stroke="#000" stroke-width="0.6"/>
<line x1="378.7" y1="432" x2="383.8" y2="432" stroke="#000" stroke-width="0.9" />
<text x="369.8" y="433.5" font-size="4.4" text-anchor="start" font-weight="bold" font-family='"Liberation Serif", serif' fill="#000" >low</text>
<text x="386.8" y="433.5" font-size="4.4" text-anchor="start" font-weight="bold" font-family='"Liberation Serif", serif' fill="#000" >high</text>
<text x="11.3" y="204.8" font-size="10" text-anchor="start" font-weight="normal" font-family='"Liberation Serif", serif' fill="#333" >C</text>
<line x1="25.9" y1="213.5" x2="25.9" y2="338" stroke="#2a2a2a" stroke-width="0.8" />
<line x1="25.9" y1="337.5" x2="285" y2="337.5" stroke="#2a2a2a" stroke-width="0.8" />
<line x1="23.9" y1="313" x2="25.9" y2="313" stroke="#222" stroke-width="0.9" />
<text x="22.3" y="315.3" font-size="5.7" text-anchor="end" font-weight="bold" font-family='"Liberation Serif", serif' fill="#000" >0.25</text>
<line x1="23.9" y1="281.8" x2="25.9" y2="281.8" stroke="#222" stroke-width="0.9" />
<text x="22.3" y="284.1" font-size="5.7" text-anchor="end" font-weight="bold" font-family='"Liberation Serif", serif' fill="#000" >0.50</text>
<line x1="23.9" y1="250.6" x2="25.9" y2="250.6" stroke="#222" stroke-width="0.9" />
<text x="22.3" y="252.9" font-size="5.7" text-anchor="end" font-weight="bold" font-family='"Liberation Serif", serif' fill="#000" >0.75</text>
<line x1="23.9" y1="219.6" x2="25.9" y2="219.6" stroke="#222" stroke-width="0.9" />
<text x="22.3" y="221.9" font-size="5.7" text-anchor="end" font-weight="bold" font-family='"Liberation Serif", serif' fill="#000" >1.00</text>
<text x="9.3" y="275" font-size="6.8" text-anchor="middle" font-weight="bold" font-family='"Liberation Serif", serif' fill="#000" transform="rotate(-90 9.3 275)" stroke="#000" stroke-width="0.15">Score</text>
<line x1="38" y1="337.5" x2="38" y2="339.1" stroke="#2a2a2a" stroke-width="0.6" />
<line x1="34.05" y1="255" x2="34.05" y2="269.6" stroke="#333" stroke-width="0.85" />
<line x1="34.05" y1="281" x2="34.05" y2="298" stroke="#333" stroke-width="0.85" />
<rect x="30.4" y="269.6" width="7.3" height="11.4" fill="#0a6dc6" stroke="#000" stroke-width="0.7"/>
<line x1="30.4" y1="273" x2="37.7" y2="273" stroke="#000" stroke-width="1.2" />
<circle cx="34.05" cy="300.4" r="1.1" fill="#000"/>
<circle cx="34.05" cy="304" r="1.1" fill="#000"/>
<line x1="41.95" y1="250" x2="41.95" y2="263" stroke="#333" stroke-width="0.85" />
<line x1="41.95" y1="274.4" x2="41.95" y2="288" stroke="#333" stroke-width="0.85" />
<rect x="38.3" y="263" width="7.3" height="11.4" fill="#fd2525" stroke="#000" stroke-width="0.7"/>
<line x1="38.3" y1="268.4" x2="45.6" y2="268.4" stroke="#000" stroke-width="1.2" />
<circle cx="41.95" cy="238" r="1.1" fill="#000"/>
<circle cx="41.95" cy="245.2" r="1.1" fill="#000"/>
<circle cx="41.95" cy="304" r="1.1" fill="#000"/>
<circle cx="41.95" cy="312.4" r="1.1" fill="#000"/>
<text x="41.5" y="342.8" font-size="5.9" text-anchor="end" font-weight="bold" font-family='"Liberation Serif", serif' fill="#000" transform="rotate(-49 41.5 342.8)" stroke="#000" stroke-width="0.18">APC_co_inhibition</text>
<line x1="57.7" y1="337.5" x2="57.7" y2="339.1" stroke="#2a2a2a" stroke-width="0.6" />
<line x1="53.75" y1="275" x2="53.75" y2="288.4" stroke="#333" stroke-width="0.85" />
<line x1="53.75" y1="301.6" x2="53.75" y2="317.6" stroke="#333" stroke-width="0.85" />
<rect x="50.1" y="288.4" width="7.3" height="13.2" fill="#0a6dc6" stroke="#000" stroke-width="0.7"/>
<line x1="50.1" y1="294.4" x2="57.4" y2="294.4" stroke="#000" stroke-width="1.2" />
<line x1="61.65" y1="270" x2="61.65" y2="281.2" stroke="#333" stroke-width="0.85" />
<line x1="61.65" y1="295.4" x2="61.65" y2="311.6" stroke="#333" stroke-width="0.85" />
<rect x="58" y="281.2" width="7.3" height="14.2" fill="#fd2525" stroke="#000" stroke-width="0.7"/>
<line x1="58" y1="286.4" x2="65.3" y2="286.4" stroke="#000" stroke-width="1.2" />
<circle cx="61.65" cy="319" r="1.1" fill="#000"/>
<text x="61.2" y="342.8" font-size="5.9" text-anchor="end" font-weight="bold" font-family='"Liberation Serif", serif' fill="#000" transform="rotate(-49 61.2 342.8)" stroke="#000" stroke-width="0.18">APC_co_stimulation</text>
<line x1="77.4" y1="337.5" x2="77.4" y2="339.1" stroke="#2a2a2a" stroke-width="0.6" />
<line x1="73.45" y1="302" x2="73.45" y2="309.4" stroke="#333" stroke-width="0.85" />
<line x1="73.45" y1="315.6" x2="73.45" y2="324" stroke="#333" stroke-width="0.85" />
<rect x="69.8" y="309.4" width="7.3" height="6.2" fill="#0a6dc6" stroke="#000" stroke-width="0.7"/>
<line x1="69.8" y1="311.6" x2="77.1" y2="311.6" stroke="#000" stroke-width="1.2" />
<line x1="81.35" y1="297" x2="81.35" y2="304" stroke="#333" stroke-width="0.85" />
<line x1="81.35" y1="311.6" x2="81.35" y2="319" stroke="#333" stroke-width="0.85" />
<rect x="77.7" y="304" width="7.3" height="7.6" fill="#fd2525" stroke="#000" stroke-width="0.7"/>
<line x1="77.7" y1="306.4" x2="85" y2="306.4" stroke="#000" stroke-width="1.2" />
<circle cx="81.35" cy="293" r="1.1" fill="#000"/>
<text x="80.9" y="342.8" font-size="5.9" text-anchor="end" font-weight="bold" font-family='"Liberation Serif", serif' fill="#000" transform="rotate(-49 80.9 342.8)" stroke="#000" stroke-width="0.18">CCR</text>
<line x1="97.1" y1="337.5" x2="97.1" y2="339.1" stroke="#2a2a2a" stroke-width="0.6" />
<line x1="93.15" y1="286.3" x2="93.15" y2="292.2" stroke="#333" stroke-width="0.85" />
<line x1="93.15" y1="302" x2="93.15" y2="311.7" stroke="#333" stroke-width="0.85" />
<rect x="89.5" y="292.2" width="7.3" height="9.8" fill="#0a6dc6" stroke="#000" stroke-width="0.7"/>
<line x1="89.5" y1="295.7" x2="96.8" y2="295.7" stroke="#000" stroke-width="1.2" />
<line x1="101.05" y1="273.2" x2="101.05" y2="288" stroke="#333" stroke-width="0.85" />
<line x1="101.05" y1="301.5" x2="101.05" y2="314.2" stroke="#333" stroke-width="0.85" />
<rect x="97.4" y="288" width="7.3" height="13.5" fill="#fd2525" stroke="#000" stroke-width="0.7"/>
<line x1="97.4" y1="292.9" x2="104.7" y2="292.9" stroke="#000" stroke-width="1.2" />
<text x="100.6" y="342.8" font-size="5.9" text-anchor="end" font-weight="bold" font-family='"Liberation Serif", serif' fill="#000" transform="rotate(-49 100.6 342.8)" stroke="#000" stroke-width="0.18">Check-point</text>
<line x1="116.8" y1="337.5" x2="116.8" y2="339.1" stroke="#2a2a2a" stroke-width="0.6" />
<line x1="112.85" y1="224.1" x2="112.85" y2="241.3" stroke="#333" stroke-width="0.85" />
<line x1="112.85" y1="264.4" x2="112.85" y2="288" stroke="#333" stroke-width="0.85" />
<rect x="109.2" y="241.3" width="7.3" height="23.1" fill="#0a6dc6" stroke="#000" stroke-width="0.7"/>
<line x1="109.2" y1="253.6" x2="116.5" y2="253.6" stroke="#000" stroke-width="1.2" />
<line x1="120.75" y1="222.7" x2="120.75" y2="236.4" stroke="#333" stroke-width="0.85" />
<line x1="120.75" y1="264.4" x2="120.75" y2="302.7" stroke="#333" stroke-width="0.85" />
<rect x="117.1" y="236.4" width="7.3" height="28" fill="#fd2525" stroke="#000" stroke-width="0.7"/>
<line x1="117.1" y1="252.1" x2="124.4" y2="252.1" stroke="#000" stroke-width="1.2" />
<text x="120.3" y="342.8" font-size="5.9" text-anchor="end" font-weight="bold" font-family='"Liberation Serif", serif' fill="#000" transform="rotate(-49 120.3 342.8)" stroke="#000" stroke-width="0.18">Cytolytic_activity</text>
<line x1="136.5" y1="337.5" x2="136.5" y2="339.1" stroke="#2a2a2a" stroke-width="0.6" />
<line x1="132.55" y1="234.5" x2="132.55" y2="243.5" stroke="#333" stroke-width="0.85" />
<line x1="132.55" y1="260.7" x2="132.55" y2="278.6" stroke="#333" stroke-width="0.85" />
<rect x="128.9" y="243.5" width="7.3" height="17.2" fill="#0a6dc6" stroke="#000" stroke-width="0.7"/>
<line x1="128.9" y1="249.9" x2="136.2" y2="249.9" stroke="#000" stroke-width="1.2" />
<line x1="140.45" y1="233.2" x2="140.45" y2="238.9" stroke="#333" stroke-width="0.85" />
<line x1="140.45" y1="250.4" x2="140.45" y2="263.9" stroke="#333" stroke-width="0.85" />
<rect x="136.8" y="238.9" width="7.3" height="11.5" fill="#fd2525" stroke="#000" stroke-width="0.7"/>
<line x1="136.8" y1="243.8" x2="144.1" y2="243.8" stroke="#000" stroke-width="1.2" />
<circle cx="140.45" cy="269.3" r="1.1" fill="#000"/>
<text x="140" y="342.8" font-size="5.9" text-anchor="end" font-weight="bold" font-family='"Liberation Serif", serif' fill="#000" transform="rotate(-49 140 342.8)" stroke="#000" stroke-width="0.18">HLA</text>
<line x1="156.2" y1="337.5" x2="156.2" y2="339.1" stroke="#2a2a2a" stroke-width="0.6" />
<line x1="152.25" y1="248.7" x2="152.25" y2="267.6" stroke="#333" stroke-width="0.85" />
<line x1="152.25" y1="288" x2="152.25" y2="312.5" stroke="#333" stroke-width="0.85" />
<rect x="148.6" y="267.6" width="7.3" height="20.4" fill="#0a6dc6" stroke="#000" stroke-width="0.7"/>
<line x1="148.6" y1="278.1" x2="155.9" y2="278.1" stroke="#000" stroke-width="1.2" />
<line x1="160.15" y1="243.8" x2="160.15" y2="264.4" stroke="#333" stroke-width="0.85" />
<line x1="160.15" y1="281.6" x2="160.15" y2="299.5" stroke="#333" stroke-width="0.85" />
<rect x="156.5" y="264.4" width="7.3" height="17.2" fill="#fd2525" stroke="#000" stroke-width="0.7"/>
<line x1="156.5" y1="270.8" x2="163.8" y2="270.8" stroke="#000" stroke-width="1.2" />
<circle cx="160.15" cy="232.5" r="1.1" fill="#000"/>
<text x="159.7" y="342.8" font-size="5.9" text-anchor="end" font-weight="bold" font-family='"Liberation Serif", serif' fill="#000" transform="rotate(-49 159.7 342.8)" stroke="#000" stroke-width="0.18">Inflammation-promoting</text>
<line x1="175.9" y1="337.5" x2="175.9" y2="339.1" stroke="#2a2a2a" stroke-width="0.6" />
<line x1="171.95" y1="220.6" x2="171.95" y2="222" stroke="#333" stroke-width="0.85" />
<rect x="168.3" y="219.3" width="7.3" height="1.3" fill="#0a6dc6" stroke="#000" stroke-width="0.7"/>
<line x1="168.3" y1="219.9" x2="175.6" y2="219.9" stroke="#000" stroke-width="1.2" />
<circle cx="171.95" cy="222.3" r="1.1" fill="#000"/>
<line x1="179.85" y1="220.6" x2="179.85" y2="222" stroke="#333" stroke-width="0.85" />
<rect x="176.2" y="219.3" width="7.3" height="1.3" fill="#fd2525" stroke="#000" stroke-width="0.7"/>
<line x1="176.2" y1="219.9" x2="183.5" y2="219.9" stroke="#000" stroke-width="1.2" />
<circle cx="179.85" cy="222.3" r="1.1" fill="#000"/>
<text x="179.4" y="342.8" font-size="5.9" text-anchor="end" font-weight="bold" font-family='"Liberation Serif", serif' fill="#000" transform="rotate(-49 179.4 342.8)" stroke="#000" stroke-width="0.18">MHC_class_I</text>
<line x1="195.6" y1="337.5" x2="195.6" y2="339.1" stroke="#2a2a2a" stroke-width="0.6" />
<line x1="191.65" y1="277.4" x2="191.65" y2="288" stroke="#333" stroke-width="0.85" />
<line x1="191.65" y1="299" x2="191.65" y2="314.2" stroke="#333" stroke-width="0.85" />
<rect x="188" y="288" width="7.3" height="11" fill="#0a6dc6" stroke="#000" stroke-width="0.7"/>
<line x1="188" y1="293.8" x2="195.3" y2="293.8" stroke="#000" stroke-width="1.2" />
<line x1="199.55" y1="267.6" x2="199.55" y2="279.1" stroke="#333" stroke-width="0.85" />
<line x1="199.55" y1="288.4" x2="199.55" y2="297" stroke="#333" stroke-width="0.85" />
<rect x="195.9" y="279.1" width="7.3" height="9.3" fill="#fd2525" stroke="#000" stroke-width="0.7"/>
<line x1="195.9" y1="283" x2="203.2" y2="283" stroke="#000" stroke-width="1.2" />
<circle cx="199.55" cy="262.2" r="1.1" fill="#000"/>
<circle cx="199.55" cy="304.9" r="1.1" fill="#000"/>
<text x="199.1" y="342.8" font-size="5.9" text-anchor="end" font-weight="bold" font-family='"Liberation Serif", serif' fill="#000" transform="rotate(-49 199.1 342.8)" stroke="#000" stroke-width="0.18">Parainflammation</text>
<line x1="215.3" y1="337.5" x2="215.3" y2="339.1" stroke="#2a2a2a" stroke-width="0.6" />
<line x1="211.35" y1="254" x2="211.35" y2="262.7" stroke="#333" stroke-width="0.85" />
<line x1="211.35" y1="272" x2="211.35" y2="283" stroke="#333" stroke-width="0.85" />
<rect x="207.7" y="262.7" width="7.3" height="9.3" fill="#0a6dc6" stroke="#000" stroke-width="0.7"/>
<line x1="207.7" y1="267.6" x2="215" y2="267.6" stroke="#000" stroke-width="1.2" />
<circle cx="211.35" cy="288.4" r="1.1" fill="#000"/>
<line x1="219.25" y1="248.7" x2="219.25" y2="257.8" stroke="#333" stroke-width="0.85" />
<line x1="219.25" y1="270.8" x2="219.25" y2="284.8" stroke="#333" stroke-width="0.85" />
<rect x="215.6" y="257.8" width="7.3" height="13" fill="#fd2525" stroke="#000" stroke-width="0.7"/>
<line x1="215.6" y1="263.9" x2="222.9" y2="263.9" stroke="#000" stroke-width="1.2" />
<circle cx="219.25" cy="289.7" r="1.1" fill="#000"/>
<text x="218.8" y="342.8" font-size="5.9" text-anchor="end" font-weight="bold" font-family='"Liberation Serif", serif' fill="#000" transform="rotate(-49 218.8 342.8)" stroke="#000" stroke-width="0.18">T_cell_co-inhibition</text>
<line x1="235" y1="337.5" x2="235" y2="339.1" stroke="#2a2a2a" stroke-width="0.6" />
<line x1="231.05" y1="262.2" x2="231.05" y2="284.3" stroke="#333" stroke-width="0.85" />
<line x1="231.05" y1="303.6" x2="231.05" y2="315" stroke="#333" stroke-width="0.85" />
<rect x="227.4" y="284.3" width="7.3" height="19.3" fill="#0a6dc6" stroke="#000" stroke-width="0.7"/>
<line x1="227.4" y1="296.6" x2="234.7" y2="296.6" stroke="#000" stroke-width="1.2" />
<line x1="238.95" y1="257.8" x2="238.95" y2="276.2" stroke="#333" stroke-width="0.85" />
<line x1="238.95" y1="297.8" x2="238.95" y2="315" stroke="#333" stroke-width="0.85" />
<rect x="235.3" y="276.2" width="7.3" height="21.6" fill="#fd2525" stroke="#000" stroke-width="0.7"/>
<line x1="235.3" y1="289.5" x2="242.6" y2="289.5" stroke="#000" stroke-width="1.2" />
<text x="238.5" y="342.8" font-size="5.9" text-anchor="end" font-weight="bold" font-family='"Liberation Serif", serif' fill="#000" transform="rotate(-49 238.5 342.8)" stroke="#000" stroke-width="0.18">T_cell_co-stimulation</text>
<line x1="254.7" y1="337.5" x2="254.7" y2="339.1" stroke="#2a2a2a" stroke-width="0.6" />
<line x1="250.75" y1="261" x2="250.75" y2="275" stroke="#333" stroke-width="0.85" />
<line x1="250.75" y1="286" x2="250.75" y2="297" stroke="#333" stroke-width="0.85" />
<rect x="247.1" y="275" width="7.3" height="11" fill="#0a6dc6" stroke="#000" stroke-width="0.7"/>
<line x1="247.1" y1="280.6" x2="254.4" y2="280.6" stroke="#000" stroke-width="1.2" />
<circle cx="250.75" cy="252.4" r="1.1" fill="#000"/>
<circle cx="250.75" cy="302.7" r="1.1" fill="#000"/>
<line x1="258.65" y1="245" x2="258.65" y2="263.4" stroke="#333" stroke-width="0.85" />
<line x1="258.65" y1="279.8" x2="258.65" y2="297.8" stroke="#333" stroke-width="0.85" />
<rect x="255" y="263.4" width="7.3" height="16.4" fill="#fd2525" stroke="#000" stroke-width="0.7"/>
<line x1="255" y1="272" x2="262.3" y2="272" stroke="#000" stroke-width="1.2" />
<circle cx="258.65" cy="236.9" r="1.1" fill="#000"/>
<text x="258.2" y="342.8" font-size="5.9" text-anchor="end" font-weight="bold" font-family='"Liberation Serif", serif' fill="#000" transform="rotate(-49 258.2 342.8)" stroke="#000" stroke-width="0.18">Type_I_IFN_Reponse</text>
<line x1="274.4" y1="337.5" x2="274.4" y2="339.1" stroke="#2a2a2a" stroke-width="0.6" />
<line x1="270.45" y1="262.7" x2="270.45" y2="272.5" stroke="#333" stroke-width="0.85" />
<line x1="270.45" y1="290.4" x2="270.45" y2="315.9" stroke="#333" stroke-width="0.85" />
<rect x="266.8" y="272.5" width="7.3" height="17.9" fill="#0a6dc6" stroke="#000" stroke-width="0.7"/>
<line x1="266.8" y1="278.1" x2="274.1" y2="278.1" stroke="#000" stroke-width="1.2" />
<circle cx="270.45" cy="331.9" r="1.1" fill="#000"/>
<line x1="278.35" y1="254.1" x2="278.35" y2="267.6" stroke="#333" stroke-width="0.85" />
<line x1="278.35" y1="281.6" x2="278.35" y2="297" stroke="#333" stroke-width="0.85" />
<rect x="274.7" y="267.6" width="7.3" height="14" fill="#fd2525" stroke="#000" stroke-width="0.7"/>
<line x1="274.7" y1="273.7" x2="282" y2="273.7" stroke="#000" stroke-width="1.2" />
<circle cx="278.35" cy="302.7" r="1.1" fill="#000"/>
<text x="277.9" y="342.8" font-size="5.9" text-anchor="end" font-weight="bold" font-family='"Liberation Serif", serif' fill="#000" transform="rotate(-49 277.9 342.8)" stroke="#000" stroke-width="0.18">Type_II_IFN_Reponse</text>
<circle cx="36.3" cy="216.2" r="1.1" fill="#4a4a4a"/>
<circle cx="39.9" cy="216.2" r="1.1" fill="#4a4a4a"/>
<circle cx="43.5" cy="216.2" r="1.1" fill="#4a4a4a"/>
<circle cx="56" cy="216.2" r="1.1" fill="#4a4a4a"/>
<circle cx="59.6" cy="216.2" r="1.1" fill="#4a4a4a"/>
<circle cx="63.2" cy="216.2" r="1.1" fill="#4a4a4a"/>
<circle cx="75.7" cy="216.2" r="1.1" fill="#4a4a4a"/>
<circle cx="79.3" cy="216.2" r="1.1" fill="#4a4a4a"/>
<circle cx="82.9" cy="216.2" r="1.1" fill="#4a4a4a"/>
<circle cx="99" cy="216.2" r="1.1" fill="#4a4a4a"/>
<circle cx="134.8" cy="216.2" r="1.1" fill="#4a4a4a"/>
<circle cx="138.4" cy="216.2" r="1.1" fill="#4a4a4a"/>
<circle cx="142" cy="216.2" r="1.1" fill="#4a4a4a"/>
<circle cx="156.3" cy="216.2" r="1.1" fill="#4a4a4a"/>
<circle cx="159.9" cy="216.2" r="1.1" fill="#4a4a4a"/>
<circle cx="193.9" cy="216.2" r="1.1" fill="#4a4a4a"/>
<circle cx="197.5" cy="216.2" r="1.1" fill="#4a4a4a"/>
<circle cx="201.1" cy="216.2" r="1.1" fill="#4a4a4a"/>
<circle cx="235.1" cy="216.2" r="1.1" fill="#4a4a4a"/>
<circle cx="238.7" cy="216.2" r="1.1" fill="#4a4a4a"/>
<circle cx="253" cy="216.2" r="1.1" fill="#4a4a4a"/>
<circle cx="256.6" cy="216.2" r="1.1" fill="#4a4a4a"/>
<circle cx="260.2" cy="216.2" r="1.1" fill="#4a4a4a"/>
<circle cx="272.7" cy="216.2" r="1.1" fill="#4a4a4a"/>
<circle cx="276.3" cy="216.2" r="1.1" fill="#4a4a4a"/>
<circle cx="279.9" cy="216.2" r="1.1" fill="#4a4a4a"/>
<text x="127.5" y="203" font-size="5.9" text-anchor="start" font-weight="bold" font-family='"Liberation Serif", serif' fill="#000" >Risk</text>
<line x1="146.1" y1="197.5" x2="146.1" y2="204.3" stroke="#000" stroke-width="0.6" />
<rect x="142.5" y="198.4" width="7.2" height="5" fill="#0a6dc6" stroke="#000" stroke-width="0.6"/>
<line x1="142.5" y1="200.9" x2="149.7" y2="200.9" stroke="#000" stroke-width="0.9" />
<line x1="168.2" y1="197.5" x2="168.2" y2="204.3" stroke="#000" stroke-width="0.6" />
<rect x="164.6" y="198.4" width="7.2" height="5" fill="#fd2525" stroke="#000" stroke-width="0.6"/>
<line x1="164.6" y1="200.9" x2="171.8" y2="200.9" stroke="#000" stroke-width="0.9" />
<text x="153.5" y="203" font-size="5.4" text-anchor="start" font-weight="bold" font-family='"Liberation Serif", serif' fill="#000" >low</text>
<text x="175.7" y="203" font-size="5.4" text-anchor="start" font-weight="bold" font-family='"Liberation Serif", serif' fill="#000" >high</text>
<text x="9" y="407.4" font-size="11.6" text-anchor="start" font-weight="normal" font-family='"Liberation Serif", serif' fill="#333" >E</text>
<line x1="24.4" y1="413.6" x2="24.4" y2="519.8" stroke="#2a2a2a" stroke-width="0.8" />
<line x1="24.4" y1="519.3" x2="289.3" y2="519.3" stroke="#2a2a2a" stroke-width="0.8" />
<line x1="22.4" y1="514.6" x2="24.4" y2="514.6" stroke="#222" stroke-width="0.9" />
<text x="21.7" y="517.4" font-size="5.7" text-anchor="end" font-weight="bold" font-family='"Liberation Serif", serif' fill="#000" >0</text>
<line x1="22.4" y1="494.65" x2="24.4" y2="494.65" stroke="#222" stroke-width="0.9" />
<text x="21.7" y="497.45" font-size="5.7" text-anchor="end" font-weight="bold" font-family='"Liberation Serif", serif' fill="#000" >1</text>
<line x1="22.4" y1="474.7" x2="24.4" y2="474.7" stroke="#222" stroke-width="0.9" />
<text x="21.7" y="477.5" font-size="5.7" text-anchor="end" font-weight="bold" font-family='"Liberation Serif", serif' fill="#000" >2</text>
<line x1="22.4" y1="454.75" x2="24.4" y2="454.75" stroke="#222" stroke-width="0.9" />
<text x="21.7" y="457.55" font-size="5.7" text-anchor="end" font-weight="bold" font-family='"Liberation Serif", serif' fill="#000" >3</text>
<line x1="22.4" y1="434.8" x2="24.4" y2="434.8" stroke="#222" stroke-width="0.9" />
<text x="21.7" y="437.6" font-size="5.7" text-anchor="end" font-weight="bold" font-family='"Liberation Serif", serif' fill="#000" >4</text>
<line x1="22.4" y1="414.85" x2="24.4" y2="414.85" stroke="#222" stroke-width="0.9" />
<text x="21.7" y="417.65" font-size="5.7" text-anchor="end" font-weight="bold" font-family='"Liberation Serif", serif' fill="#000" >5</text>
<text x="15.9" y="465" font-size="6.5" text-anchor="middle" font-weight="bold" font-family='"Liberation Serif", serif' fill="#000" transform="rotate(-90 15.9 465)" stroke="#000" stroke-width="0.15">Gene expression</text>
<line x1="35.3" y1="519.3" x2="35.3" y2="520.9" stroke="#2a2a2a" stroke-width="0.6" />
<line x1="31.8" y1="422.5" x2="31.8" y2="440.3" stroke="#333" stroke-width="0.85" />
<line x1="31.8" y1="484" x2="31.8" y2="513.7" stroke="#333" stroke-width="0.85" />
<rect x="28.3" y="440.3" width="7" height="43.7" fill="#0a6dc6" stroke="#000" stroke-width="0.7"/>
<line x1="28.3" y1="459.5" x2="35.3" y2="459.5" stroke="#000" stroke-width="1.2" />
<line x1="38.8" y1="429.7" x2="38.8" y2="457" stroke="#333" stroke-width="0.85" />
<line x1="38.8" y1="507.1" x2="38.8" y2="513.7" stroke="#333" stroke-width="0.85" />
<rect x="35.3" y="457" width="7" height="50.1" fill="#fd2525" stroke="#000" stroke-width="0.7"/>
<line x1="35.3" y1="479.2" x2="42.3" y2="479.2" stroke="#000" stroke-width="1.2" />
<text x="38.3" y="525.2" font-size="5.7" text-anchor="end" font-weight="bold" font-family='"Liberation Serif", serif' fill="#000" transform="rotate(-49 38.3 525.2)" stroke="#000" stroke-width="0.18">CD200</text>
<line x1="52.73" y1="519.3" x2="52.73" y2="520.9" stroke="#2a2a2a" stroke-width="0.6" />
<line x1="49.23" y1="422.5" x2="49.23" y2="438.4" stroke="#333" stroke-width="0.85" />
<line x1="49.23" y1="450.4" x2="49.23" y2="465.7" stroke="#333" stroke-width="0.85" />
<rect x="45.73" y="438.4" width="7" height="12" fill="#0a6dc6" stroke="#000" stroke-width="0.7"/>
<line x1="45.73" y1="444.3" x2="52.73" y2="444.3" stroke="#000" stroke-width="1.2" />
<circle cx="49.23" cy="418.5" r="1.1" fill="#000"/>
<line x1="56.23" y1="427.5" x2="56.23" y2="442.7" stroke="#333" stroke-width="0.85" />
<line x1="56.23" y1="459.5" x2="56.23" y2="475.9" stroke="#333" stroke-width="0.85" />
<rect x="52.73" y="442.7" width="7" height="16.8" fill="#fd2525" stroke="#000" stroke-width="0.7"/>
<line x1="52.73" y1="448.2" x2="59.73" y2="448.2" stroke="#000" stroke-width="1.2" />
<circle cx="56.23" cy="485.7" r="1.1" fill="#000"/>
<circle cx="56.23" cy="496.2" r="1.1" fill="#000"/>
<circle cx="56.23" cy="498.8" r="1.1" fill="#000"/>
<circle cx="56.23" cy="504.3" r="1.1" fill="#000"/>
<text x="55.73" y="525.2" font-size="5.7" text-anchor="end" font-weight="bold" font-family='"Liberation Serif", serif' fill="#000" transform="rotate(-49 55.73 525.2)" stroke="#000" stroke-width="0.18">CD244</text>
<line x1="70.16" y1="519.3" x2="70.16" y2="520.9" stroke="#2a2a2a" stroke-width="0.6" />
<line x1="66.66" y1="481.4" x2="66.66" y2="498.4" stroke="#333" stroke-width="0.85" />
<line x1="66.66" y1="511.9" x2="66.66" y2="513.4" stroke="#333" stroke-width="0.85" />
<rect x="63.16" y="498.4" width="7" height="13.5" fill="#0a6dc6" stroke="#000" stroke-width="0.7"/>
<line x1="63.16" y1="506.5" x2="70.16" y2="506.5" stroke="#000" stroke-width="1.2" />
<circle cx="66.66" cy="469" r="1.1" fill="#000"/>
<circle cx="66.66" cy="476.3" r="1.1" fill="#000"/>
<line x1="73.66" y1="457.4" x2="73.66" y2="484" stroke="#333" stroke-width="0.85" />
<line x1="73.66" y1="507.1" x2="73.66" y2="513.4" stroke="#333" stroke-width="0.85" />
<rect x="70.16" y="484" width="7" height="23.1" fill="#fd2525" stroke="#000" stroke-width="0.7"/>
<line x1="70.16" y1="499.9" x2="77.16" y2="499.9" stroke="#000" stroke-width="1.2" />
<text x="73.16" y="525.2" font-size="5.7" text-anchor="end" font-weight="bold" font-family='"Liberation Serif", serif' fill="#000" transform="rotate(-49 73.16 525.2)" stroke="#000" stroke-width="0.18">CD200R1</text>
<line x1="87.59" y1="519.3" x2="87.59" y2="520.9" stroke="#2a2a2a" stroke-width="0.6" />
<line x1="84.09" y1="499.3" x2="84.09" y2="506" stroke="#333" stroke-width="0.85" />
<line x1="84.09" y1="513" x2="84.09" y2="514" stroke="#333" stroke-width="0.85" />
<rect x="80.59" y="506" width="7" height="7" fill="#0a6dc6" stroke="#000" stroke-width="0.7"/>
<line x1="80.59" y1="510.4" x2="87.59" y2="510.4" stroke="#000" stroke-width="1.2" />
<circle cx="84.09" cy="489" r="1.1" fill="#000"/>
<circle cx="84.09" cy="491.2" r="1.1" fill="#000"/>
<circle cx="84.09" cy="494" r="1.1" fill="#000"/>
<line x1="91.09" y1="482.5" x2="91.09" y2="500.4" stroke="#333" stroke-width="0.85" />
<line x1="91.09" y1="511.9" x2="91.09" y2="514" stroke="#333" stroke-width="0.85" />
<rect x="87.59" y="500.4" width="7" height="11.5" fill="#fd2525" stroke="#000" stroke-width="0.7"/>
<line x1="87.59" y1="506.9" x2="94.59" y2="506.9" stroke="#000" stroke-width="1.2" />
<circle cx="91.09" cy="475.3" r="1.1" fill="#000"/>
<circle cx="91.09" cy="478.1" r="1.1" fill="#000"/>
<text x="90.59" y="525.2" font-size="5.7" text-anchor="end" font-weight="bold" font-family='"Liberation Serif", serif' fill="#000" transform="rotate(-49 90.59 525.2)" stroke="#000" stroke-width="0.18">CTLA4</text>
<line x1="105.02" y1="519.3" x2="105.02" y2="520.9" stroke="#2a2a2a" stroke-width="0.6" />
<line x1="101.52" y1="501" x2="101.52" y2="507.1" stroke="#333" stroke-width="0.85" />
<line x1="101.52" y1="513.7" x2="101.52" y2="514.3" stroke="#333" stroke-width="0.85" />
<rect x="98.02" y="507.1" width="7" height="6.6" fill="#0a6dc6" stroke="#000" stroke-width="0.7"/>
<line x1="98.02" y1="511.5" x2="105.02" y2="511.5" stroke="#000" stroke-width="1.2" />
<circle cx="101.52" cy="462.8" r="1.1" fill="#000"/>
<circle cx="101.52" cy="470.5" r="1.1" fill="#000"/>
<circle cx="101.52" cy="475.9" r="1.1" fill="#000"/>
<circle cx="101.52" cy="481.4" r="1.1" fill="#000"/>
<circle cx="101.52" cy="483.5" r="1.1" fill="#000"/>
<circle cx="101.52" cy="485.7" r="1.1" fill="#000"/>
<circle cx="101.52" cy="489" r="1.1" fill="#000"/>
<circle cx="101.52" cy="492.3" r="1.1" fill="#000"/>
<circle cx="101.52" cy="494.9" r="1.1" fill="#000"/>
<line x1="108.52" y1="464.3" x2="108.52" y2="491.8" stroke="#333" stroke-width="0.85" />
<line x1="108.52" y1="511.9" x2="108.52" y2="514.3" stroke="#333" stroke-width="0.85" />
<rect x="105.02" y="491.8" width="7" height="20.1" fill="#fd2525" stroke="#000" stroke-width="0.7"/>
<line x1="105.02" y1="506.5" x2="112.02" y2="506.5" stroke="#000" stroke-width="1.2" />
<text x="108.02" y="525.2" font-size="5.7" text-anchor="end" font-weight="bold" font-family='"Liberation Serif", serif' fill="#000" transform="rotate(-49 108.02 525.2)" stroke="#000" stroke-width="0.18">CD276</text>
<line x1="122.45" y1="519.3" x2="122.45" y2="520.9" stroke="#2a2a2a" stroke-width="0.6" />
<rect x="115.45" y="511.9" width="7" height="2.1" fill="#0a6dc6" stroke="#000" stroke-width="0.7"/>
<line x1="115.45" y1="513" x2="122.45" y2="513" stroke="#000" stroke-width="1.2" />
<circle cx="118.95" cy="489" r="1.1" fill="#000"/>
<circle cx="118.95" cy="492.3" r="1.1" fill="#000"/>
<circle cx="118.95" cy="496.6" r="1.1" fill="#000"/>
<circle cx="118.95" cy="501" r="1.1" fill="#000"/>
<circle cx="118.95" cy="504.5" r="1.1" fill="#000"/>
<circle cx="118.95" cy="507.6" r="1.1" fill="#000"/>
<line x1="125.95" y1="501" x2="125.95" y2="508.6" stroke="#333" stroke-width="0.85" />
<line x1="125.95" y1="513.7" x2="125.95" y2="514" stroke="#333" stroke-width="0.85" />
<rect x="122.45" y="508.6" width="7" height="5.1" fill="#fd2525" stroke="#000" stroke-width="0.7"/>
<line x1="122.45" y1="511.9" x2="129.45" y2="511.9" stroke="#000" stroke-width="1.2" />
<circle cx="125.95" cy="487.5" r="1.1" fill="#000"/>
<circle cx="125.95" cy="491.2" r="1.1" fill="#000"/>
<text x="125.45" y="525.2" font-size="5.7" text-anchor="end" font-weight="bold" font-family='"Liberation Serif", serif' fill="#000" transform="rotate(-49 125.45 525.2)" stroke="#000" stroke-width="0.18">KIR3DL1</text>
<line x1="139.88" y1="519.3" x2="139.88" y2="520.9" stroke="#2a2a2a" stroke-width="0.6" />
<rect x="132.88" y="511.2" width="7" height="2.2" fill="#0a6dc6" stroke="#000" stroke-width="0.7"/>
<line x1="132.88" y1="512.5" x2="139.88" y2="512.5" stroke="#000" stroke-width="1.2" />
<circle cx="136.38" cy="494.5" r="1.1" fill="#000"/>
<circle cx="136.38" cy="497.5" r="1.1" fill="#000"/>
<circle cx="136.38" cy="500.5" r="1.1" fill="#000"/>
<circle cx="136.38" cy="504" r="1.1" fill="#000"/>
<circle cx="136.38" cy="507.5" r="1.1" fill="#000"/>
<line x1="143.38" y1="500" x2="143.38" y2="509.3" stroke="#333" stroke-width="0.85" />
<line x1="143.38" y1="513" x2="143.38" y2="514" stroke="#333" stroke-width="0.85" />
<rect x="139.88" y="509.3" width="7" height="3.7" fill="#fd2525" stroke="#000" stroke-width="0.7"/>
<line x1="139.88" y1="511" x2="146.88" y2="511" stroke="#000" stroke-width="1.2" />
<circle cx="143.38" cy="477" r="1.1" fill="#000"/>
<circle cx="143.38" cy="480.3" r="1.1" fill="#000"/>
<circle cx="143.38" cy="482.5" r="1.1" fill="#000"/>
<circle cx="143.38" cy="497.7" r="1.1" fill="#000"/>
<text x="142.88" y="525.2" font-size="5.7" text-anchor="end" font-weight="bold" font-family='"Liberation Serif", serif' fill="#000" transform="rotate(-49 142.88 525.2)" stroke="#000" stroke-width="0.18">CD80</text>
<line x1="157.31" y1="519.3" x2="157.31" y2="520.9" stroke="#2a2a2a" stroke-width="0.6" />
<line x1="153.81" y1="428.6" x2="153.81" y2="438.8" stroke="#333" stroke-width="0.85" />
<line x1="153.81" y1="455.6" x2="153.81" y2="482.5" stroke="#333" stroke-width="0.85" />
<rect x="150.31" y="438.8" width="7" height="16.8" fill="#0a6dc6" stroke="#000" stroke-width="0.7"/>
<line x1="150.31" y1="444.9" x2="157.31" y2="444.9" stroke="#000" stroke-width="1.2" />
<circle cx="153.81" cy="488.3" r="1.1" fill="#000"/>
<line x1="160.81" y1="421.4" x2="160.81" y2="434" stroke="#333" stroke-width="0.85" />
<line x1="160.81" y1="447.5" x2="160.81" y2="460.6" stroke="#333" stroke-width="0.85" />
<rect x="157.31" y="434" width="7" height="13.5" fill="#fd2525" stroke="#000" stroke-width="0.7"/>
<line x1="157.31" y1="440.3" x2="164.31" y2="440.3" stroke="#000" stroke-width="1.2" />
<circle cx="160.81" cy="486.8" r="1.1" fill="#000"/>
<circle cx="160.81" cy="506.9" r="1.1" fill="#000"/>
<text x="160.31" y="525.2" font-size="5.7" text-anchor="end" font-weight="bold" font-family='"Liberation Serif", serif' fill="#000" transform="rotate(-49 160.31 525.2)" stroke="#000" stroke-width="0.18">LGALS9</text>
<line x1="174.74" y1="519.3" x2="174.74" y2="520.9" stroke="#2a2a2a" stroke-width="0.6" />
<line x1="171.24" y1="474.4" x2="171.24" y2="496.2" stroke="#333" stroke-width="0.85" />
<line x1="171.24" y1="509.7" x2="171.24" y2="513" stroke="#333" stroke-width="0.85" />
<rect x="167.74" y="496.2" width="7" height="13.5" fill="#0a6dc6" stroke="#000" stroke-width="0.7"/>
<line x1="167.74" y1="506.5" x2="174.74" y2="506.5" stroke="#000" stroke-width="1.2" />
<circle cx="171.24" cy="473.3" r="1.1" fill="#000"/>
<line x1="178.24" y1="474.4" x2="178.24" y2="490.7" stroke="#333" stroke-width="0.85" />
<line x1="178.24" y1="505.4" x2="178.24" y2="513" stroke="#333" stroke-width="0.85" />
<rect x="174.74" y="490.7" width="7" height="14.7" fill="#fd2525" stroke="#000" stroke-width="0.7"/>
<line x1="174.74" y1="499.9" x2="181.74" y2="499.9" stroke="#000" stroke-width="1.2" />
<circle cx="178.24" cy="460.6" r="1.1" fill="#000"/>
<circle cx="178.24" cy="463.5" r="1.1" fill="#000"/>
<circle cx="178.24" cy="466.1" r="1.1" fill="#000"/>
<text x="177.74" y="525.2" font-size="5.7" text-anchor="end" font-weight="bold" font-family='"Liberation Serif", serif' fill="#000" transform="rotate(-49 177.74 525.2)" stroke="#000" stroke-width="0.18">TNFSF14</text>
<line x1="192.17" y1="519.3" x2="192.17" y2="520.9" stroke="#2a2a2a" stroke-width="0.6" />
<line x1="188.67" y1="486.8" x2="188.67" y2="491.8" stroke="#333" stroke-width="0.85" />
<line x1="188.67" y1="497.7" x2="188.67" y2="503.2" stroke="#333" stroke-width="0.85" />
<rect x="185.17" y="491.8" width="7" height="5.9" fill="#0a6dc6" stroke="#000" stroke-width="0.7"/>
<line x1="185.17" y1="494.5" x2="192.17" y2="494.5" stroke="#000" stroke-width="1.2" />
<circle cx="188.67" cy="479.2" r="1.1" fill="#000"/>
<circle cx="188.67" cy="481.8" r="1.1" fill="#000"/>
<line x1="195.67" y1="483.5" x2="195.67" y2="492.3" stroke="#333" stroke-width="0.85" />
<line x1="195.67" y1="499.9" x2="195.67" y2="507.5" stroke="#333" stroke-width="0.85" />
<rect x="192.17" y="492.3" width="7" height="7.6" fill="#fd2525" stroke="#000" stroke-width="0.7"/>
<line x1="192.17" y1="496.6" x2="199.17" y2="496.6" stroke="#000" stroke-width="1.2" />
<circle cx="195.67" cy="470" r="1.1" fill="#000"/>
<circle cx="195.67" cy="512.6" r="1.1" fill="#000"/>
<text x="195.17" y="525.2" font-size="5.7" text-anchor="end" font-weight="bold" font-family='"Liberation Serif", serif' fill="#000" transform="rotate(-49 195.17 525.2)" stroke="#000" stroke-width="0.18">CD160</text>
<line x1="209.6" y1="519.3" x2="209.6" y2="520.9" stroke="#2a2a2a" stroke-width="0.6" />
<line x1="206.1" y1="426.2" x2="206.1" y2="456.3" stroke="#333" stroke-width="0.85" />
<line x1="206.1" y1="489" x2="206.1" y2="513" stroke="#333" stroke-width="0.85" />
<rect x="202.6" y="456.3" width="7" height="32.7" fill="#0a6dc6" stroke="#000" stroke-width="0.7"/>
<line x1="202.6" y1="468.3" x2="209.6" y2="468.3" stroke="#000" stroke-width="1.2" />
<line x1="213.1" y1="437.3" x2="213.1" y2="469.4" stroke="#333" stroke-width="0.85" />
<line x1="213.1" y1="511.9" x2="213.1" y2="513" stroke="#333" stroke-width="0.85" />
<rect x="209.6" y="469.4" width="7" height="42.5" fill="#fd2525" stroke="#000" stroke-width="0.7"/>
<line x1="209.6" y1="500.6" x2="216.6" y2="500.6" stroke="#000" stroke-width="1.2" />
<text x="212.6" y="525.2" font-size="5.7" text-anchor="end" font-weight="bold" font-family='"Liberation Serif", serif' fill="#000" transform="rotate(-49 212.6 525.2)" stroke="#000" stroke-width="0.18">TMIGD2</text>
<line x1="227.03" y1="519.3" x2="227.03" y2="520.9" stroke="#2a2a2a" stroke-width="0.6" />
<rect x="220.03" y="511.2" width="7" height="2.2" fill="#0a6dc6" stroke="#000" stroke-width="0.7"/>
<line x1="220.03" y1="512.4" x2="227.03" y2="512.4" stroke="#000" stroke-width="1.2" />
<circle cx="223.53" cy="502" r="1.1" fill="#000"/>
<circle cx="223.53" cy="504.5" r="1.1" fill="#000"/>
<circle cx="223.53" cy="507" r="1.1" fill="#000"/>
<circle cx="223.53" cy="509.5" r="1.1" fill="#000"/>
<line x1="230.53" y1="501" x2="230.53" y2="508.2" stroke="#333" stroke-width="0.85" />
<line x1="230.53" y1="513" x2="230.53" y2="514" stroke="#333" stroke-width="0.85" />
<rect x="227.03" y="508.2" width="7" height="4.8" fill="#fd2525" stroke="#000" stroke-width="0.7"/>
<line x1="227.03" y1="511" x2="234.03" y2="511" stroke="#000" stroke-width="1.2" />
<circle cx="230.53" cy="474.4" r="1.1" fill="#000"/>
<circle cx="230.53" cy="487.9" r="1.1" fill="#000"/>
<circle cx="230.53" cy="497.7" r="1.1" fill="#000"/>
<circle cx="230.53" cy="500" r="1.1" fill="#000"/>
<circle cx="230.53" cy="502.5" r="1.1" fill="#000"/>
<text x="230.03" y="525.2" font-size="5.7" text-anchor="end" font-weight="bold" font-family='"Liberation Serif", serif' fill="#000" transform="rotate(-49 230.03 525.2)" stroke="#000" stroke-width="0.18">PDCD1LG2</text>
<line x1="244.46" y1="519.3" x2="244.46" y2="520.9" stroke="#2a2a2a" stroke-width="0.6" />
<line x1="237.46" y1="514.4" x2="244.46" y2="514.4" stroke="#000" stroke-width="1.15" />
<circle cx="240.96" cy="512.5" r="1.1" fill="#000"/>
<line x1="247.96" y1="510.5" x2="247.96" y2="514.1" stroke="#333" stroke-width="0.85" />
<line x1="244.46" y1="514.4" x2="251.46" y2="514.4" stroke="#000" stroke-width="1.15" />
<circle cx="247.96" cy="510.8" r="1.1" fill="#000"/>
<text x="247.46" y="525.2" font-size="5.7" text-anchor="end" font-weight="bold" font-family='"Liberation Serif", serif' fill="#000" transform="rotate(-49 247.46 525.2)" stroke="#000" stroke-width="0.18">TNFSF18</text>
<line x1="261.89" y1="519.3" x2="261.89" y2="520.9" stroke="#2a2a2a" stroke-width="0.6" />
<line x1="258.39" y1="493.8" x2="258.39" y2="503.2" stroke="#333" stroke-width="0.85" />
<line x1="258.39" y1="511.2" x2="258.39" y2="514" stroke="#333" stroke-width="0.85" />
<rect x="254.89" y="503.2" width="7" height="8" fill="#0a6dc6" stroke="#000" stroke-width="0.7"/>
<line x1="254.89" y1="509" x2="261.89" y2="509" stroke="#000" stroke-width="1.2" />
<circle cx="258.39" cy="448.6" r="1.1" fill="#000"/>
<circle cx="258.39" cy="475.9" r="1.1" fill="#000"/>
<circle cx="258.39" cy="483.1" r="1.1" fill="#000"/>
<line x1="265.39" y1="485.7" x2="265.39" y2="498.2" stroke="#333" stroke-width="0.85" />
<line x1="265.39" y1="508.6" x2="265.39" y2="514" stroke="#333" stroke-width="0.85" />
<rect x="261.89" y="498.2" width="7" height="10.4" fill="#fd2525" stroke="#000" stroke-width="0.7"/>
<line x1="261.89" y1="503.6" x2="268.89" y2="503.6" stroke="#000" stroke-width="1.2" />
<circle cx="265.39" cy="446.5" r="1.1" fill="#000"/>
<circle cx="265.39" cy="471.5" r="1.1" fill="#000"/>
<circle cx="265.39" cy="476" r="1.1" fill="#000"/>
<circle cx="265.39" cy="478" r="1.1" fill="#000"/>
<circle cx="265.39" cy="480.3" r="1.1" fill="#000"/>
<circle cx="265.39" cy="482.5" r="1.1" fill="#000"/>
<text x="264.89" y="525.2" font-size="5.7" text-anchor="end" font-weight="bold" font-family='"Liberation Serif", serif' fill="#000" transform="rotate(-49 264.89 525.2)" stroke="#000" stroke-width="0.18">PDCD1</text>
<line x1="279.32" y1="519.3" x2="279.32" y2="520.9" stroke="#2a2a2a" stroke-width="0.6" />
<line x1="275.82" y1="502" x2="275.82" y2="507.1" stroke="#333" stroke-width="0.85" />
<line x1="275.82" y1="512.6" x2="275.82" y2="514" stroke="#333" stroke-width="0.85" />
<rect x="272.32" y="507.1" width="7" height="5.5" fill="#0a6dc6" stroke="#000" stroke-width="0.7"/>
<line x1="272.32" y1="510.8" x2="279.32" y2="510.8" stroke="#000" stroke-width="1.2" />
<circle cx="275.82" cy="477" r="1.1" fill="#000"/>
<circle cx="275.82" cy="483.5" r="1.1" fill="#000"/>
<circle cx="275.82" cy="491" r="1.1" fill="#000"/>
<circle cx="275.82" cy="494" r="1.1" fill="#000"/>
<circle cx="275.82" cy="497" r="1.1" fill="#000"/>
<circle cx="275.82" cy="500" r="1.1" fill="#000"/>
<line x1="282.82" y1="475.9" x2="282.82" y2="495.5" stroke="#333" stroke-width="0.85" />
<line x1="282.82" y1="511.5" x2="282.82" y2="514" stroke="#333" stroke-width="0.85" />
<rect x="279.32" y="495.5" width="7" height="16" fill="#fd2525" stroke="#000" stroke-width="0.7"/>
<line x1="279.32" y1="506.5" x2="286.32" y2="506.5" stroke="#000" stroke-width="1.2" />
<circle cx="282.82" cy="470.4" r="1.1" fill="#000"/>
<text x="282.32" y="525.2" font-size="5.7" text-anchor="end" font-weight="bold" font-family='"Liberation Serif", serif' fill="#000" transform="rotate(-49 282.32 525.2)" stroke="#000" stroke-width="0.18">TNFRSF8</text>
<circle cx="34.7" cy="415.4" r="1.1" fill="#4a4a4a"/>
<circle cx="38.3" cy="415.4" r="1.1" fill="#4a4a4a"/>
<circle cx="52.13" cy="415.4" r="1.1" fill="#4a4a4a"/>
<circle cx="55.73" cy="415.4" r="1.1" fill="#4a4a4a"/>
<circle cx="67.76" cy="415.4" r="1.1" fill="#4a4a4a"/>
<circle cx="71.36" cy="415.4" r="1.1" fill="#4a4a4a"/>
<circle cx="74.96" cy="415.4" r="1.1" fill="#4a4a4a"/>
<circle cx="86.99" cy="415.4" r="1.1" fill="#4a4a4a"/>
<circle cx="90.59" cy="415.4" r="1.1" fill="#4a4a4a"/>
<circle cx="102.62" cy="415.4" r="1.1" fill="#4a4a4a"/>
<circle cx="106.22" cy="415.4" r="1.1" fill="#4a4a4a"/>
<circle cx="109.82" cy="415.4" r="1.1" fill="#4a4a4a"/>
<circle cx="120.05" cy="415.4" r="1.1" fill="#4a4a4a"/>
<circle cx="123.65" cy="415.4" r="1.1" fill="#4a4a4a"/>
<circle cx="127.25" cy="415.4" r="1.1" fill="#4a4a4a"/>
<circle cx="141.08" cy="415.4" r="1.1" fill="#4a4a4a"/>
<circle cx="158.51" cy="415.4" r="1.1" fill="#4a4a4a"/>
<circle cx="174.14" cy="415.4" r="1.1" fill="#4a4a4a"/>
<circle cx="177.74" cy="415.4" r="1.1" fill="#4a4a4a"/>
<circle cx="193.37" cy="415.4" r="1.1" fill="#4a4a4a"/>
<circle cx="207.2" cy="415.4" r="1.1" fill="#4a4a4a"/>
<circle cx="210.8" cy="415.4" r="1.1" fill="#4a4a4a"/>
<circle cx="214.4" cy="415.4" r="1.1" fill="#4a4a4a"/>
<circle cx="224.63" cy="415.4" r="1.1" fill="#4a4a4a"/>
<circle cx="228.23" cy="415.4" r="1.1" fill="#4a4a4a"/>
<circle cx="231.83" cy="415.4" r="1.1" fill="#4a4a4a"/>
<circle cx="243.86" cy="415.4" r="1.1" fill="#4a4a4a"/>
<circle cx="247.46" cy="415.4" r="1.1" fill="#4a4a4a"/>
<circle cx="259.49" cy="415.4" r="1.1" fill="#4a4a4a"/>
<circle cx="263.09" cy="415.4" r="1.1" fill="#4a4a4a"/>
<circle cx="266.69" cy="415.4" r="1.1" fill="#4a4a4a"/>
<circle cx="276.92" cy="415.4" r="1.1" fill="#4a4a4a"/>
<circle cx="280.52" cy="415.4" r="1.1" fill="#4a4a4a"/>
<circle cx="284.12" cy="415.4" r="1.1" fill="#4a4a4a"/>
<text x="128.9" y="403.6" font-size="5.8" text-anchor="start" font-weight="bold" font-family='"Liberation Serif", serif' fill="#000" >Risk</text>
<line x1="147.25" y1="398.2" x2="147.25" y2="404.8" stroke="#000" stroke-width="0.6" />
<rect x="143.7" y="399.1" width="7.1" height="4.8" fill="#0a6dc6" stroke="#000" stroke-width="0.6"/>
<line x1="143.7" y1="401.5" x2="150.8" y2="401.5" stroke="#000" stroke-width="0.9" />
<line x1="169.15" y1="398.2" x2="169.15" y2="404.8" stroke="#000" stroke-width="0.6" />
<rect x="165.6" y="399.1" width="7.1" height="4.8" fill="#fd2525" stroke="#000" stroke-width="0.6"/>
<line x1="165.6" y1="401.5" x2="172.7" y2="401.5" stroke="#000" stroke-width="0.9" />
<text x="154.4" y="403.6" font-size="5.2" text-anchor="start" font-weight="bold" font-family='"Liberation Serif", serif' fill="#000" >low</text>
<text x="176" y="403.6" font-size="5.2" text-anchor="start" font-weight="bold" font-family='"Liberation Serif", serif' fill="#000" >high</text>
</svg></body></html>
